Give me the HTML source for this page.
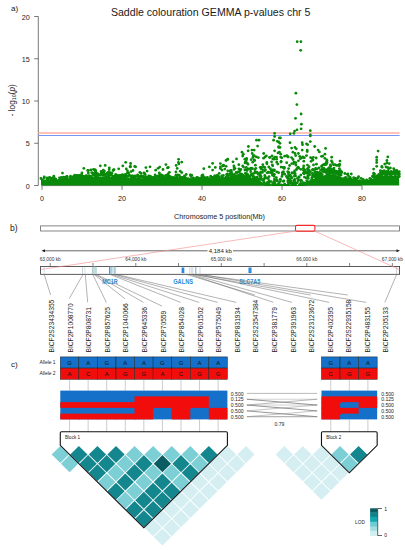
<!DOCTYPE html>
<html><head><meta charset="utf-8"><style>
html,body{margin:0;padding:0;background:#fff;width:405px;height:550px;overflow:hidden}
svg{display:block;font-family:"Liberation Sans", sans-serif}
</style></head><body>
<svg width="405" height="550" viewBox="0 0 405 550">
<text x="10.9" y="10.5" font-size="8.1" fill="#1a1a1a">a)</text>
<text x="110.9" y="15.9" font-size="10.6" fill="#1a1a1a" textLength="199.6" lengthAdjust="spacingAndGlyphs">Saddle colouration GEMMA p-values chr 5</text>
<g stroke="#555" stroke-width="0.8" fill="none">
<line x1="38.3" y1="16.50" x2="38.3" y2="185.50"/>
<line x1="34.2" y1="185.50" x2="38.3" y2="185.50"/>
<line x1="34.2" y1="143.25" x2="38.3" y2="143.25"/>
<line x1="34.2" y1="101.00" x2="38.3" y2="101.00"/>
<line x1="34.2" y1="58.75" x2="38.3" y2="58.75"/>
<line x1="34.2" y1="16.50" x2="38.3" y2="16.50"/>
<line x1="42.0" y1="185.6" x2="362.0" y2="185.6"/>
<line x1="42.0" y1="185.6" x2="42.0" y2="189.8"/>
<line x1="122.0" y1="185.6" x2="122.0" y2="189.8"/>
<line x1="202.0" y1="185.6" x2="202.0" y2="189.8"/>
<line x1="282.0" y1="185.6" x2="282.0" y2="189.8"/>
<line x1="362.0" y1="185.6" x2="362.0" y2="189.8"/>
</g>
<text x="29.8" y="188.50" font-size="7.2" fill="#222" text-anchor="end">0</text>
<text x="29.8" y="146.25" font-size="7.2" fill="#222" text-anchor="end">5</text>
<text x="29.8" y="104.00" font-size="7.2" fill="#222" text-anchor="end">10</text>
<text x="29.8" y="61.75" font-size="7.2" fill="#222" text-anchor="end">15</text>
<text x="29.8" y="19.50" font-size="7.2" fill="#222" text-anchor="end">20</text>
<text x="42.0" y="201.3" font-size="7.2" fill="#222" text-anchor="middle">0</text>
<text x="122.0" y="201.3" font-size="7.2" fill="#222" text-anchor="middle">20</text>
<text x="202.0" y="201.3" font-size="7.2" fill="#222" text-anchor="middle">40</text>
<text x="282.0" y="201.3" font-size="7.2" fill="#222" text-anchor="middle">60</text>
<text x="362.0" y="201.3" font-size="7.2" fill="#222" text-anchor="middle">80</text>
<text x="219.5" y="218.8" font-size="7.2" fill="#222" text-anchor="middle" textLength="91" lengthAdjust="spacingAndGlyphs">Chromosome 5 position(Mb)</text>
<text transform="translate(14.7,116.2) rotate(-90)" font-size="8.2" fill="#222">- log<tspan font-size="5.4" dy="1.5">10</tspan><tspan dy="-1.5">(</tspan><tspan font-style="italic">p</tspan>)</text>
<line x1="38.3" y1="133.0" x2="399.6" y2="133.0" stroke="#ffaea2" stroke-width="1.7"/>
<line x1="38.3" y1="135.5" x2="399.6" y2="135.5" stroke="#7896fa" stroke-width="1.1"/>
<clipPath id="pc"><rect x="0" y="0" width="405" height="185.6"/></clipPath>
<g clip-path="url(#pc)">
<path d="M41,186.3 L41.0,178.0 L41.5,178.0 L42.0,178.5 L42.5,178.5 L43.0,179.0 L43.5,179.0 L44.0,179.6 L44.5,179.6 L45.0,180.4 L45.5,180.4 L46.0,180.4 L46.5,180.4 L47.0,180.4 L47.5,180.4 L48.0,180.3 L48.5,180.3 L49.0,180.2 L49.5,180.2 L50.0,180.1 L50.5,180.1 L51.0,180.0 L51.5,180.0 L52.0,179.8 L52.5,179.8 L53.0,179.7 L53.5,179.7 L54.0,179.6 L54.5,179.6 L55.0,179.5 L55.5,179.5 L56.0,179.4 L56.5,179.4 L57.0,179.4 L57.5,179.4 L58.0,179.2 L58.5,179.2 L59.0,179.1 L59.5,179.1 L60.0,179.1 L60.5,179.1 L61.0,179.0 L61.5,179.0 L62.0,178.9 L62.5,178.9 L63.0,178.8 L63.5,178.8 L64.0,178.7 L64.5,178.7 L65.0,178.6 L65.5,178.6 L66.0,178.5 L66.5,178.5 L67.0,178.5 L67.5,178.5 L68.0,178.4 L68.5,178.4 L69.0,178.3 L69.5,178.3 L70.0,178.2 L70.5,178.2 L71.0,178.1 L71.5,178.1 L72.0,178.0 L72.5,178.0 L73.0,177.9 L73.5,177.9 L74.0,177.9 L74.5,177.9 L75.0,177.8 L75.5,177.8 L76.0,177.7 L76.5,177.7 L77.0,177.7 L77.5,177.7 L78.0,177.7 L78.5,177.7 L79.0,177.7 L79.5,177.7 L80.0,177.7 L80.5,177.7 L81.0,177.7 L81.5,177.7 L82.0,177.7 L82.5,177.7 L83.0,177.7 L83.5,177.7 L84.0,177.7 L84.5,177.7 L85.0,177.7 L85.5,177.7 L86.0,177.7 L86.5,177.7 L87.0,177.7 L87.5,177.7 L88.0,177.6 L88.5,177.6 L89.0,177.4 L89.5,177.4 L90.0,177.3 L90.5,177.3 L91.0,177.2 L91.5,177.2 L92.0,177.1 L92.5,177.1 L93.0,176.9 L93.5,176.9 L94.0,176.8 L94.5,176.8 L95.0,176.7 L95.5,176.7 L96.0,176.6 L96.5,176.6 L97.0,176.6 L97.5,176.6 L98.0,176.5 L98.5,176.5 L99.0,176.5 L99.5,176.5 L100.0,176.5 L100.5,176.5 L101.0,176.5 L101.5,176.5 L102.0,176.4 L102.5,176.4 L103.0,176.4 L103.5,176.4 L104.0,176.4 L104.5,176.4 L105.0,176.3 L105.5,176.3 L106.0,176.3 L106.5,176.3 L107.0,176.3 L107.5,176.3 L108.0,176.4 L108.5,176.4 L109.0,176.5 L109.5,176.5 L110.0,176.7 L110.5,176.7 L111.0,176.8 L111.5,176.8 L112.0,176.9 L112.5,176.9 L113.0,177.0 L113.5,177.0 L114.0,177.2 L114.5,177.2 L115.0,177.3 L115.5,177.3 L116.0,177.4 L116.5,177.4 L117.0,177.4 L117.5,177.4 L118.0,177.4 L118.5,177.4 L119.0,177.4 L119.5,177.4 L120.0,177.4 L120.5,177.4 L121.0,177.4 L121.5,177.4 L122.0,177.4 L122.5,177.4 L123.0,177.4 L123.5,177.4 L124.0,177.4 L124.5,177.4 L125.0,177.4 L125.5,177.4 L126.0,177.4 L126.5,177.4 L127.0,177.4 L127.5,177.4 L128.0,177.5 L128.5,177.5 L129.0,177.5 L129.5,177.5 L130.0,177.6 L130.5,177.6 L131.0,177.6 L131.5,177.6 L132.0,177.7 L132.5,177.7 L133.0,177.8 L133.5,177.8 L134.0,177.8 L134.5,177.8 L135.0,177.9 L135.5,177.9 L136.0,177.9 L136.5,177.9 L137.0,177.9 L137.5,177.9 L138.0,178.0 L138.5,178.0 L139.0,178.1 L139.5,178.1 L140.0,178.1 L140.5,178.1 L141.0,178.2 L141.5,178.2 L142.0,178.3 L142.5,178.3 L143.0,178.3 L143.5,178.3 L144.0,178.4 L144.5,178.4 L145.0,178.4 L145.5,178.4 L146.0,178.5 L146.5,178.5 L147.0,178.5 L147.5,178.5 L148.0,178.5 L148.5,178.5 L149.0,178.4 L149.5,178.4 L150.0,178.4 L150.5,178.4 L151.0,178.4 L151.5,178.4 L152.0,178.3 L152.5,178.3 L153.0,178.3 L153.5,178.3 L154.0,178.3 L154.5,178.3 L155.0,178.3 L155.5,178.3 L156.0,178.2 L156.5,178.2 L157.0,178.2 L157.5,178.2 L158.0,178.2 L158.5,178.2 L159.0,178.2 L159.5,178.2 L160.0,178.2 L160.5,178.2 L161.0,178.2 L161.5,178.2 L162.0,178.2 L162.5,178.2 L163.0,178.2 L163.5,178.2 L164.0,178.2 L164.5,178.2 L165.0,178.2 L165.5,178.2 L166.0,178.2 L166.5,178.2 L167.0,178.2 L167.5,178.2 L168.0,178.3 L168.5,178.3 L169.0,178.3 L169.5,178.3 L170.0,178.3 L170.5,178.3 L171.0,178.3 L171.5,178.3 L172.0,178.4 L172.5,178.4 L173.0,178.4 L173.5,178.4 L174.0,178.4 L174.5,178.4 L175.0,178.5 L175.5,178.5 L176.0,178.5 L176.5,178.5 L177.0,178.5 L177.5,178.5 L178.0,178.5 L178.5,178.5 L179.0,178.6 L179.5,178.6 L180.0,178.6 L180.5,178.6 L181.0,178.6 L181.5,178.6 L182.0,178.7 L182.5,178.7 L183.0,178.7 L183.5,178.7 L184.0,178.7 L184.5,178.7 L185.0,178.7 L185.5,178.7 L186.0,178.8 L186.5,178.8 L187.0,178.8 L187.5,178.8 L188.0,178.8 L188.5,178.8 L189.0,178.8 L189.5,178.8 L190.0,178.8 L190.5,178.8 L191.0,178.8 L191.5,178.8 L192.0,178.8 L192.5,178.8 L193.0,178.8 L193.5,178.8 L194.0,178.8 L194.5,178.8 L195.0,178.8 L195.5,178.8 L196.0,178.8 L196.5,178.8 L197.0,178.8 L197.5,178.8 L198.0,178.8 L198.5,178.8 L199.0,178.8 L199.5,178.8 L200.0,178.9 L200.5,178.9 L201.0,178.9 L201.5,178.9 L202.0,178.9 L202.5,178.9 L203.0,179.0 L203.5,179.0 L204.0,179.0 L204.5,179.0 L205.0,179.0 L205.5,179.0 L206.0,179.1 L206.5,179.1 L207.0,179.1 L207.5,179.1 L208.0,179.0 L208.5,179.0 L209.0,179.0 L209.5,179.0 L210.0,179.0 L210.5,179.0 L211.0,178.9 L211.5,178.9 L212.0,178.9 L212.5,178.9 L213.0,178.9 L213.5,178.9 L214.0,178.8 L214.5,178.8 L215.0,178.8 L215.5,178.8 L216.0,178.8 L216.5,178.8 L217.0,178.8 L217.5,178.8 L218.0,178.7 L218.5,178.7 L219.0,178.7 L219.5,178.7 L220.0,178.7 L220.5,178.7 L221.0,178.7 L221.5,178.7 L222.0,178.6 L222.5,178.6 L223.0,178.6 L223.5,178.6 L224.0,178.6 L224.5,178.6 L225.0,178.5 L225.5,178.5 L226.0,178.5 L226.5,178.5 L227.0,178.5 L227.5,178.5 L228.0,178.4 L228.5,178.4 L229.0,178.3 L229.5,178.3 L230.0,178.1 L230.5,178.1 L231.0,178.0 L231.5,178.0 L232.0,177.9 L232.5,177.9 L233.0,177.8 L233.5,177.8 L234.0,177.6 L234.5,177.6 L235.0,177.5 L235.5,177.5 L236.0,177.4 L236.5,177.4 L237.0,177.4 L237.5,177.4 L238.0,177.4 L238.5,177.4 L239.0,177.4 L239.5,177.4 L240.0,177.4 L240.5,177.4 L241.0,177.4 L241.5,177.4 L242.0,177.4 L242.5,177.4 L243.0,177.4 L243.5,177.4 L244.0,177.4 L244.5,177.4 L245.0,177.4 L245.5,177.4 L246.0,177.4 L246.5,177.4 L247.0,177.4 L247.5,177.4 L248.0,177.6 L248.5,177.6 L249.0,177.8 L249.5,177.8 L250.0,177.9 L250.5,177.9 L251.0,178.1 L251.5,178.1 L252.0,178.3 L252.5,178.3 L253.0,178.5 L253.5,178.5 L254.0,178.7 L254.5,178.7 L255.0,178.9 L255.5,178.9 L256.0,179.1 L256.5,179.1 L257.0,179.1 L257.5,179.1 L258.0,179.6 L258.5,179.6 L259.0,180.2 L259.5,180.2 L260.0,180.9 L260.5,180.9 L261.0,181.6 L261.5,181.6 L262.0,182.2 L262.5,182.2 L263.0,182.9 L263.5,182.9 L264.0,183.6 L264.5,183.6 L265.0,184.2 L265.5,184.2 L266.0,184.9 L266.5,184.9 L267.0,184.9 L267.5,184.9 L268.0,184.9 L268.5,184.9 L269.0,184.9 L269.5,184.9 L270.0,184.9 L270.5,184.9 L271.0,184.9 L271.5,184.9 L272.0,184.9 L272.5,184.9 L273.0,184.9 L273.5,184.9 L274.0,184.9 L274.5,184.9 L275.0,184.9 L275.5,184.9 L276.0,184.9 L276.5,184.9 L277.0,184.9 L277.5,184.9 L278.0,185.0 L278.5,185.0 L279.0,185.0 L279.5,185.0 L280.0,185.0 L280.5,185.0 L281.0,185.0 L281.5,185.0 L282.0,185.0 L282.5,185.0 L283.0,185.0 L283.5,185.0 L284.0,185.0 L284.5,185.0 L285.0,185.0 L285.5,185.0 L286.0,185.0 L286.5,185.0 L287.0,185.0 L287.5,185.0 L288.0,185.0 L288.5,185.0 L289.0,185.0 L289.5,185.0 L290.0,185.0 L290.5,185.0 L291.0,185.0 L291.5,185.0 L292.0,185.0 L292.5,185.0 L293.0,185.0 L293.5,185.0 L294.0,185.0 L294.5,185.0 L295.0,185.0 L295.5,185.0 L296.0,185.0 L296.5,185.0 L297.0,185.0 L297.5,185.0 L298.0,185.0 L298.5,185.0 L299.0,185.0 L299.5,185.0 L300.0,184.9 L300.5,184.9 L301.0,184.7 L301.5,184.7 L302.0,184.6 L302.5,184.6 L303.0,184.4 L303.5,184.4 L304.0,184.2 L304.5,184.2 L305.0,184.1 L305.5,184.1 L306.0,183.9 L306.5,183.9 L307.0,183.9 L307.5,183.9 L308.0,183.0 L308.5,183.0 L309.0,182.1 L309.5,182.1 L310.0,181.2 L310.5,181.2 L311.0,180.3 L311.5,180.3 L312.0,179.5 L312.5,179.5 L313.0,178.9 L313.5,178.9 L314.0,178.4 L314.5,178.4 L315.0,177.9 L315.5,177.9 L316.0,177.4 L316.5,177.4 L317.0,177.4 L317.5,177.4 L318.0,177.1 L318.5,177.1 L319.0,176.8 L319.5,176.8 L320.0,176.5 L320.5,176.5 L321.0,176.2 L321.5,176.2 L322.0,175.9 L322.5,175.9 L323.0,175.6 L323.5,175.6 L324.0,175.3 L324.5,175.3 L325.0,175.0 L325.5,175.0 L326.0,174.7 L326.5,174.7 L327.0,174.7 L327.5,174.7 L328.0,174.7 L328.5,174.7 L329.0,174.8 L329.5,174.8 L330.0,174.8 L330.5,174.8 L331.0,174.9 L331.5,174.9 L332.0,175.0 L332.5,175.0 L333.0,175.0 L333.5,175.0 L334.0,175.1 L334.5,175.1 L335.0,175.1 L335.5,175.1 L336.0,175.2 L336.5,175.2 L337.0,175.2 L337.5,175.2 L338.0,175.6 L338.5,175.6 L339.0,176.1 L339.5,176.1 L340.0,176.5 L340.5,176.5 L341.0,176.9 L341.5,176.9 L342.0,177.3 L342.5,177.3 L343.0,177.8 L343.5,177.8 L344.0,178.2 L344.5,178.2 L345.0,178.6 L345.5,178.6 L346.0,179.1 L346.5,179.1 L347.0,179.1 L347.5,179.1 L348.0,179.1 L348.5,179.1 L349.0,179.2 L349.5,179.2 L350.0,179.4 L350.5,179.4 L351.0,179.6 L351.5,179.6 L352.0,179.7 L352.5,179.7 L353.0,179.9 L353.5,179.9 L354.0,180.1 L354.5,180.1 L355.0,180.2 L355.5,180.2 L356.0,180.4 L356.5,180.4 L357.0,180.4 L357.5,180.4 L358.0,180.5 L358.5,180.5 L359.0,180.5 L359.5,180.5 L360.0,180.6 L360.5,180.6 L361.0,180.6 L361.5,180.6 L362.0,180.7 L362.5,180.7 L363.0,180.7 L363.5,180.7 L364.0,180.8 L364.5,180.8 L365.0,180.8 L365.5,180.8 L366.0,180.9 L366.5,180.9 L367.0,180.9 L367.5,180.9 L368.0,180.5 L368.5,180.5 L369.0,180.0 L369.5,180.0 L370.0,179.6 L370.5,179.6 L371.0,179.2 L371.5,179.2 L372.0,178.9 L372.5,178.9 L373.0,178.7 L373.5,178.7 L374.0,178.4 L374.5,178.4 L375.0,178.2 L375.5,178.2 L376.0,177.7 L376.5,177.7 L377.0,177.5 L377.5,177.5 L378.0,177.2 L378.5,177.2 L379.0,177.0 L379.5,177.0 L380.0,176.7 L380.5,176.7 L381.0,176.5 L381.5,176.5 L382.0,176.2 L382.5,176.2 L383.0,176.0 L383.5,176.0 L384.0,175.8 L384.5,175.8 L385.0,175.8 L385.5,175.8 L386.0,175.8 L386.5,175.8 L387.0,175.8 L387.5,175.8 L388.0,175.8 L388.5,175.8 L389.0,175.8 L389.5,175.8 L390.0,175.8 L390.5,175.8 L391.0,175.8 L391.5,175.8 L392.0,175.8 L392.5,175.8 L393.0,175.8 L393.5,175.8 L394.0,175.8 L394.5,175.8 L395.0,175.8 L395.5,175.8 L396.0,175.8 L396.5,175.8 L397.0,175.8 L397.5,175.8 L398.0,175.8 L398.5,175.8 L399.0,175.8 L399.3,186.3 Z" fill="#0a8a0a"/>
<g fill="#0a8a0a">
<circle cx="47.9" cy="179.4" r="1.4"/>
<circle cx="49.7" cy="177.5" r="1.4"/>
<circle cx="49.1" cy="177.9" r="1.4"/>
<circle cx="51.4" cy="179.8" r="1.4"/>
<circle cx="50.9" cy="181.0" r="1.4"/>
<circle cx="46.2" cy="180.8" r="1.4"/>
<circle cx="47.0" cy="180.1" r="1.4"/>
<circle cx="44.1" cy="178.0" r="1.4"/>
<circle cx="49.4" cy="181.0" r="1.4"/>
<circle cx="49.8" cy="181.0" r="1.4"/>
<circle cx="47.8" cy="181.0" r="1.4"/>
<circle cx="41.0" cy="178.5" r="1.4"/>
<circle cx="51.8" cy="178.5" r="1.4"/>
<circle cx="44.2" cy="177.0" r="1.4"/>
<circle cx="46.9" cy="178.0" r="1.4"/>
<circle cx="51.4" cy="180.9" r="1.4"/>
<circle cx="60.9" cy="179.7" r="1.4"/>
<circle cx="55.6" cy="180.0" r="1.4"/>
<circle cx="53.5" cy="180.1" r="1.4"/>
<circle cx="55.0" cy="179.0" r="1.4"/>
<circle cx="52.0" cy="178.7" r="1.4"/>
<circle cx="55.4" cy="179.7" r="1.4"/>
<circle cx="60.2" cy="179.3" r="1.4"/>
<circle cx="55.2" cy="179.3" r="1.4"/>
<circle cx="59.0" cy="180.1" r="1.4"/>
<circle cx="61.8" cy="180.2" r="1.4"/>
<circle cx="59.5" cy="177.8" r="1.4"/>
<circle cx="52.2" cy="178.2" r="1.4"/>
<circle cx="55.7" cy="179.1" r="1.4"/>
<circle cx="52.1" cy="180.1" r="1.4"/>
<circle cx="53.8" cy="176.2" r="1.4"/>
<circle cx="54.0" cy="178.4" r="1.4"/>
<circle cx="61.3" cy="177.3" r="1.4"/>
<circle cx="55.5" cy="179.2" r="1.4"/>
<circle cx="53.1" cy="179.3" r="1.4"/>
<circle cx="70.6" cy="178.7" r="1.4"/>
<circle cx="71.5" cy="178.6" r="1.4"/>
<circle cx="65.4" cy="177.5" r="1.4"/>
<circle cx="71.2" cy="178.2" r="1.4"/>
<circle cx="71.2" cy="177.7" r="1.4"/>
<circle cx="65.1" cy="178.2" r="1.4"/>
<circle cx="63.8" cy="178.6" r="1.4"/>
<circle cx="63.5" cy="177.2" r="1.4"/>
<circle cx="72.0" cy="178.5" r="1.4"/>
<circle cx="62.5" cy="173.1" r="1.4"/>
<circle cx="67.3" cy="178.0" r="1.4"/>
<circle cx="64.4" cy="177.5" r="1.4"/>
<circle cx="70.3" cy="177.9" r="1.4"/>
<circle cx="66.2" cy="178.6" r="1.4"/>
<circle cx="71.2" cy="178.7" r="1.4"/>
<circle cx="66.9" cy="176.3" r="1.4"/>
<circle cx="63.3" cy="177.7" r="1.4"/>
<circle cx="71.5" cy="177.9" r="1.4"/>
<circle cx="69.9" cy="179.2" r="1.4"/>
<circle cx="66.3" cy="177.9" r="1.4"/>
<circle cx="64.9" cy="178.5" r="1.4"/>
<circle cx="70.5" cy="176.2" r="1.4"/>
<circle cx="66.9" cy="176.3" r="1.4"/>
<circle cx="74.9" cy="176.5" r="1.4"/>
<circle cx="73.5" cy="176.6" r="1.4"/>
<circle cx="81.9" cy="173.0" r="1.4"/>
<circle cx="78.3" cy="176.3" r="1.4"/>
<circle cx="75.4" cy="177.1" r="1.4"/>
<circle cx="74.7" cy="175.2" r="1.4"/>
<circle cx="80.7" cy="176.6" r="1.4"/>
<circle cx="79.9" cy="175.3" r="1.4"/>
<circle cx="78.9" cy="175.8" r="1.4"/>
<circle cx="79.6" cy="176.6" r="1.4"/>
<circle cx="79.0" cy="176.8" r="1.4"/>
<circle cx="76.9" cy="175.3" r="1.4"/>
<circle cx="78.9" cy="176.7" r="1.4"/>
<circle cx="81.5" cy="175.8" r="1.4"/>
<circle cx="77.8" cy="177.2" r="1.4"/>
<circle cx="77.5" cy="176.8" r="1.4"/>
<circle cx="78.7" cy="177.2" r="1.4"/>
<circle cx="80.2" cy="176.6" r="1.4"/>
<circle cx="80.0" cy="177.6" r="1.4"/>
<circle cx="78.4" cy="176.3" r="1.4"/>
<circle cx="80.3" cy="177.6" r="1.4"/>
<circle cx="80.4" cy="175.9" r="1.4"/>
<circle cx="78.9" cy="175.6" r="1.4"/>
<circle cx="81.6" cy="174.7" r="1.4"/>
<circle cx="73.7" cy="176.7" r="1.4"/>
<circle cx="76.8" cy="175.7" r="1.4"/>
<circle cx="79.3" cy="176.0" r="1.4"/>
<circle cx="87.8" cy="175.8" r="1.4"/>
<circle cx="86.2" cy="175.9" r="1.4"/>
<circle cx="89.7" cy="175.9" r="1.4"/>
<circle cx="89.2" cy="177.2" r="1.4"/>
<circle cx="83.6" cy="176.4" r="1.4"/>
<circle cx="88.5" cy="176.9" r="1.4"/>
<circle cx="88.9" cy="175.9" r="1.4"/>
<circle cx="82.4" cy="176.4" r="1.4"/>
<circle cx="84.3" cy="177.1" r="1.4"/>
<circle cx="83.3" cy="176.7" r="1.4"/>
<circle cx="83.8" cy="176.9" r="1.4"/>
<circle cx="82.4" cy="176.4" r="1.4"/>
<circle cx="85.8" cy="176.0" r="1.4"/>
<circle cx="87.9" cy="176.8" r="1.4"/>
<circle cx="91.0" cy="177.2" r="1.4"/>
<circle cx="86.1" cy="176.8" r="1.4"/>
<circle cx="86.1" cy="178.3" r="1.4"/>
<circle cx="90.3" cy="177.5" r="1.4"/>
<circle cx="82.4" cy="176.7" r="1.4"/>
<circle cx="82.9" cy="176.9" r="1.4"/>
<circle cx="85.4" cy="176.8" r="1.4"/>
<circle cx="91.6" cy="176.1" r="1.4"/>
<circle cx="86.2" cy="176.1" r="1.4"/>
<circle cx="88.4" cy="170.5" r="1.4"/>
<circle cx="88.0" cy="176.8" r="1.4"/>
<circle cx="91.7" cy="172.7" r="1.4"/>
<circle cx="90.9" cy="169.9" r="1.4"/>
<circle cx="87.7" cy="170.4" r="1.4"/>
<circle cx="88.3" cy="172.9" r="1.4"/>
<circle cx="96.3" cy="174.9" r="1.4"/>
<circle cx="94.9" cy="170.5" r="1.4"/>
<circle cx="95.8" cy="171.0" r="1.4"/>
<circle cx="101.1" cy="174.0" r="1.4"/>
<circle cx="94.6" cy="170.0" r="1.4"/>
<circle cx="97.0" cy="174.5" r="1.4"/>
<circle cx="95.2" cy="169.8" r="1.4"/>
<circle cx="96.9" cy="174.8" r="1.4"/>
<circle cx="96.8" cy="175.0" r="1.4"/>
<circle cx="98.2" cy="174.4" r="1.4"/>
<circle cx="94.9" cy="173.2" r="1.4"/>
<circle cx="100.3" cy="175.2" r="1.4"/>
<circle cx="97.3" cy="174.8" r="1.4"/>
<circle cx="101.4" cy="173.2" r="1.4"/>
<circle cx="94.5" cy="174.8" r="1.4"/>
<circle cx="93.5" cy="169.4" r="1.4"/>
<circle cx="94.9" cy="175.1" r="1.4"/>
<circle cx="96.7" cy="174.9" r="1.4"/>
<circle cx="98.0" cy="174.5" r="1.4"/>
<circle cx="93.2" cy="174.5" r="1.4"/>
<circle cx="95.0" cy="175.4" r="1.4"/>
<circle cx="95.4" cy="176.4" r="1.4"/>
<circle cx="97.3" cy="175.7" r="1.4"/>
<circle cx="95.6" cy="174.5" r="1.4"/>
<circle cx="97.9" cy="177.4" r="1.4"/>
<circle cx="94.5" cy="175.7" r="1.4"/>
<circle cx="101.2" cy="174.0" r="1.4"/>
<circle cx="97.5" cy="173.6" r="1.4"/>
<circle cx="96.3" cy="173.2" r="1.4"/>
<circle cx="98.3" cy="174.5" r="1.4"/>
<circle cx="95.9" cy="174.1" r="1.4"/>
<circle cx="94.0" cy="174.0" r="1.4"/>
<circle cx="92.7" cy="173.1" r="1.4"/>
<circle cx="96.3" cy="173.7" r="1.4"/>
<circle cx="101.1" cy="171.5" r="1.4"/>
<circle cx="107.5" cy="173.8" r="1.4"/>
<circle cx="105.3" cy="174.5" r="1.4"/>
<circle cx="107.9" cy="172.5" r="1.4"/>
<circle cx="102.7" cy="174.4" r="1.4"/>
<circle cx="110.2" cy="172.7" r="1.4"/>
<circle cx="108.6" cy="174.7" r="1.4"/>
<circle cx="109.2" cy="169.7" r="1.4"/>
<circle cx="112.0" cy="173.1" r="1.4"/>
<circle cx="102.5" cy="172.3" r="1.4"/>
<circle cx="104.2" cy="173.4" r="1.4"/>
<circle cx="111.5" cy="173.1" r="1.4"/>
<circle cx="103.3" cy="174.3" r="1.4"/>
<circle cx="111.2" cy="174.5" r="1.4"/>
<circle cx="108.1" cy="174.0" r="1.4"/>
<circle cx="103.6" cy="173.4" r="1.4"/>
<circle cx="102.4" cy="174.6" r="1.4"/>
<circle cx="105.8" cy="177.0" r="1.4"/>
<circle cx="102.6" cy="174.8" r="1.4"/>
<circle cx="109.4" cy="173.5" r="1.4"/>
<circle cx="103.3" cy="175.4" r="1.4"/>
<circle cx="105.1" cy="174.7" r="1.4"/>
<circle cx="106.9" cy="173.3" r="1.4"/>
<circle cx="105.7" cy="177.1" r="1.4"/>
<circle cx="109.0" cy="176.7" r="1.4"/>
<circle cx="108.3" cy="175.1" r="1.4"/>
<circle cx="111.1" cy="174.9" r="1.4"/>
<circle cx="108.2" cy="176.2" r="1.4"/>
<circle cx="107.5" cy="176.2" r="1.4"/>
<circle cx="109.5" cy="175.1" r="1.4"/>
<circle cx="103.3" cy="170.2" r="1.4"/>
<circle cx="109.4" cy="172.8" r="1.4"/>
<circle cx="108.6" cy="172.5" r="1.4"/>
<circle cx="102.9" cy="172.0" r="1.4"/>
<circle cx="104.4" cy="171.1" r="1.4"/>
<circle cx="105.2" cy="165.4" r="1.4"/>
<circle cx="109.3" cy="167.8" r="1.4"/>
<circle cx="121.5" cy="175.2" r="1.4"/>
<circle cx="114.2" cy="176.5" r="1.4"/>
<circle cx="121.7" cy="175.3" r="1.4"/>
<circle cx="120.2" cy="176.5" r="1.4"/>
<circle cx="118.2" cy="176.1" r="1.4"/>
<circle cx="114.4" cy="176.2" r="1.4"/>
<circle cx="118.1" cy="176.1" r="1.4"/>
<circle cx="115.9" cy="176.5" r="1.4"/>
<circle cx="120.3" cy="175.3" r="1.4"/>
<circle cx="120.0" cy="176.0" r="1.4"/>
<circle cx="120.5" cy="175.8" r="1.4"/>
<circle cx="117.9" cy="175.6" r="1.4"/>
<circle cx="119.4" cy="176.0" r="1.4"/>
<circle cx="113.0" cy="176.7" r="1.4"/>
<circle cx="114.0" cy="176.6" r="1.4"/>
<circle cx="120.9" cy="175.8" r="1.4"/>
<circle cx="119.6" cy="178.4" r="1.4"/>
<circle cx="116.7" cy="175.4" r="1.4"/>
<circle cx="118.2" cy="176.9" r="1.4"/>
<circle cx="116.7" cy="178.1" r="1.4"/>
<circle cx="113.5" cy="177.9" r="1.4"/>
<circle cx="115.7" cy="177.1" r="1.4"/>
<circle cx="120.8" cy="177.9" r="1.4"/>
<circle cx="114.5" cy="177.5" r="1.4"/>
<circle cx="113.6" cy="169.8" r="1.4"/>
<circle cx="116.8" cy="176.0" r="1.4"/>
<circle cx="115.7" cy="174.3" r="1.4"/>
<circle cx="118.7" cy="176.1" r="1.4"/>
<circle cx="113.2" cy="170.5" r="1.4"/>
<circle cx="118.7" cy="168.8" r="1.4"/>
<circle cx="114.0" cy="169.7" r="1.4"/>
<circle cx="112.8" cy="176.3" r="1.4"/>
<circle cx="125.6" cy="176.2" r="1.4"/>
<circle cx="126.7" cy="176.3" r="1.4"/>
<circle cx="129.3" cy="175.1" r="1.4"/>
<circle cx="123.6" cy="176.3" r="1.4"/>
<circle cx="128.7" cy="173.0" r="1.4"/>
<circle cx="128.5" cy="176.0" r="1.4"/>
<circle cx="131.8" cy="176.7" r="1.4"/>
<circle cx="122.6" cy="174.7" r="1.4"/>
<circle cx="126.1" cy="176.6" r="1.4"/>
<circle cx="127.5" cy="170.8" r="1.4"/>
<circle cx="127.2" cy="176.1" r="1.4"/>
<circle cx="122.9" cy="176.6" r="1.4"/>
<circle cx="131.0" cy="175.8" r="1.4"/>
<circle cx="131.4" cy="176.6" r="1.4"/>
<circle cx="124.4" cy="176.6" r="1.4"/>
<circle cx="126.0" cy="176.6" r="1.4"/>
<circle cx="124.6" cy="177.0" r="1.4"/>
<circle cx="125.1" cy="178.2" r="1.4"/>
<circle cx="122.4" cy="175.1" r="1.4"/>
<circle cx="123.8" cy="176.7" r="1.4"/>
<circle cx="126.0" cy="176.6" r="1.4"/>
<circle cx="122.8" cy="177.3" r="1.4"/>
<circle cx="123.1" cy="176.6" r="1.4"/>
<circle cx="131.2" cy="176.4" r="1.4"/>
<circle cx="130.6" cy="163.5" r="1.4"/>
<circle cx="127.4" cy="172.8" r="1.4"/>
<circle cx="125.8" cy="174.3" r="1.4"/>
<circle cx="131.1" cy="171.6" r="1.4"/>
<circle cx="130.3" cy="166.6" r="1.4"/>
<circle cx="125.1" cy="174.7" r="1.4"/>
<circle cx="130.2" cy="166.9" r="1.4"/>
<circle cx="122.8" cy="165.9" r="1.4"/>
<circle cx="126.3" cy="168.9" r="1.4"/>
<circle cx="132.6" cy="176.1" r="1.4"/>
<circle cx="132.5" cy="177.4" r="1.4"/>
<circle cx="134.9" cy="177.1" r="1.4"/>
<circle cx="133.0" cy="177.0" r="1.4"/>
<circle cx="135.1" cy="175.9" r="1.4"/>
<circle cx="137.6" cy="174.8" r="1.4"/>
<circle cx="138.5" cy="175.8" r="1.4"/>
<circle cx="137.7" cy="176.9" r="1.4"/>
<circle cx="140.2" cy="176.3" r="1.4"/>
<circle cx="141.5" cy="176.0" r="1.4"/>
<circle cx="139.0" cy="177.3" r="1.4"/>
<circle cx="140.1" cy="177.1" r="1.4"/>
<circle cx="133.3" cy="177.6" r="1.4"/>
<circle cx="133.7" cy="177.3" r="1.4"/>
<circle cx="138.8" cy="177.3" r="1.4"/>
<circle cx="132.6" cy="175.8" r="1.4"/>
<circle cx="137.6" cy="178.9" r="1.4"/>
<circle cx="132.5" cy="178.6" r="1.4"/>
<circle cx="135.6" cy="176.4" r="1.4"/>
<circle cx="141.5" cy="177.1" r="1.4"/>
<circle cx="134.3" cy="177.7" r="1.4"/>
<circle cx="135.6" cy="166.8" r="1.4"/>
<circle cx="137.8" cy="175.7" r="1.4"/>
<circle cx="133.0" cy="170.5" r="1.4"/>
<circle cx="139.1" cy="177.1" r="1.4"/>
<circle cx="139.9" cy="172.3" r="1.4"/>
<circle cx="141.1" cy="173.4" r="1.4"/>
<circle cx="146.4" cy="176.8" r="1.4"/>
<circle cx="151.4" cy="177.7" r="1.4"/>
<circle cx="151.7" cy="177.5" r="1.4"/>
<circle cx="143.0" cy="176.5" r="1.4"/>
<circle cx="146.2" cy="178.6" r="1.4"/>
<circle cx="151.8" cy="178.7" r="1.4"/>
<circle cx="147.8" cy="177.8" r="1.4"/>
<circle cx="150.8" cy="178.1" r="1.4"/>
<circle cx="144.2" cy="178.3" r="1.4"/>
<circle cx="144.0" cy="177.6" r="1.4"/>
<circle cx="145.6" cy="176.9" r="1.4"/>
<circle cx="144.4" cy="178.1" r="1.4"/>
<circle cx="144.5" cy="173.4" r="1.4"/>
<circle cx="150.4" cy="176.2" r="1.4"/>
<circle cx="148.2" cy="178.0" r="1.4"/>
<circle cx="143.4" cy="176.4" r="1.4"/>
<circle cx="146.9" cy="179.4" r="1.4"/>
<circle cx="143.7" cy="179.3" r="1.4"/>
<circle cx="149.2" cy="177.2" r="1.4"/>
<circle cx="144.0" cy="172.9" r="1.4"/>
<circle cx="148.8" cy="175.8" r="1.4"/>
<circle cx="150.0" cy="166.8" r="1.4"/>
<circle cx="147.1" cy="171.1" r="1.4"/>
<circle cx="145.9" cy="167.6" r="1.4"/>
<circle cx="145.1" cy="174.5" r="1.4"/>
<circle cx="149.0" cy="178.4" r="1.4"/>
<circle cx="160.2" cy="174.9" r="1.4"/>
<circle cx="158.9" cy="176.8" r="1.4"/>
<circle cx="157.4" cy="176.1" r="1.4"/>
<circle cx="155.6" cy="177.0" r="1.4"/>
<circle cx="158.8" cy="177.2" r="1.4"/>
<circle cx="154.8" cy="178.1" r="1.4"/>
<circle cx="152.9" cy="177.6" r="1.4"/>
<circle cx="157.8" cy="176.3" r="1.4"/>
<circle cx="159.1" cy="177.7" r="1.4"/>
<circle cx="161.3" cy="177.8" r="1.4"/>
<circle cx="159.2" cy="178.1" r="1.4"/>
<circle cx="159.5" cy="176.8" r="1.4"/>
<circle cx="161.6" cy="175.2" r="1.4"/>
<circle cx="158.9" cy="175.8" r="1.4"/>
<circle cx="159.4" cy="177.0" r="1.4"/>
<circle cx="154.1" cy="177.3" r="1.4"/>
<circle cx="161.0" cy="178.6" r="1.4"/>
<circle cx="161.7" cy="177.7" r="1.4"/>
<circle cx="155.9" cy="179.2" r="1.4"/>
<circle cx="155.9" cy="178.7" r="1.4"/>
<circle cx="158.5" cy="177.3" r="1.4"/>
<circle cx="158.1" cy="168.3" r="1.4"/>
<circle cx="158.9" cy="175.8" r="1.4"/>
<circle cx="155.7" cy="170.2" r="1.4"/>
<circle cx="155.1" cy="174.9" r="1.4"/>
<circle cx="161.0" cy="175.0" r="1.4"/>
<circle cx="159.7" cy="167.1" r="1.4"/>
<circle cx="157.7" cy="177.1" r="1.4"/>
<circle cx="159.3" cy="173.0" r="1.4"/>
<circle cx="167.3" cy="175.1" r="1.4"/>
<circle cx="165.0" cy="177.8" r="1.4"/>
<circle cx="168.1" cy="173.8" r="1.4"/>
<circle cx="163.9" cy="178.2" r="1.4"/>
<circle cx="163.2" cy="177.1" r="1.4"/>
<circle cx="168.0" cy="177.9" r="1.4"/>
<circle cx="163.9" cy="177.0" r="1.4"/>
<circle cx="168.5" cy="176.7" r="1.4"/>
<circle cx="169.3" cy="178.1" r="1.4"/>
<circle cx="166.8" cy="175.9" r="1.4"/>
<circle cx="171.6" cy="177.7" r="1.4"/>
<circle cx="170.5" cy="176.9" r="1.4"/>
<circle cx="171.3" cy="177.9" r="1.4"/>
<circle cx="169.0" cy="175.8" r="1.4"/>
<circle cx="166.8" cy="178.1" r="1.4"/>
<circle cx="163.9" cy="178.0" r="1.4"/>
<circle cx="162.9" cy="178.8" r="1.4"/>
<circle cx="168.2" cy="178.9" r="1.4"/>
<circle cx="169.6" cy="177.2" r="1.4"/>
<circle cx="170.2" cy="177.0" r="1.4"/>
<circle cx="169.1" cy="177.7" r="1.4"/>
<circle cx="168.3" cy="167.5" r="1.4"/>
<circle cx="163.0" cy="169.5" r="1.4"/>
<circle cx="165.7" cy="175.3" r="1.4"/>
<circle cx="169.4" cy="172.3" r="1.4"/>
<circle cx="167.4" cy="167.8" r="1.4"/>
<circle cx="168.0" cy="175.3" r="1.4"/>
<circle cx="167.0" cy="177.6" r="1.4"/>
<circle cx="162.7" cy="175.7" r="1.4"/>
<circle cx="175.0" cy="178.5" r="1.4"/>
<circle cx="176.8" cy="178.1" r="1.4"/>
<circle cx="179.4" cy="175.4" r="1.4"/>
<circle cx="175.8" cy="178.3" r="1.4"/>
<circle cx="177.0" cy="177.1" r="1.4"/>
<circle cx="179.9" cy="177.6" r="1.4"/>
<circle cx="175.0" cy="178.2" r="1.4"/>
<circle cx="180.5" cy="177.7" r="1.4"/>
<circle cx="172.5" cy="178.0" r="1.4"/>
<circle cx="174.4" cy="177.3" r="1.4"/>
<circle cx="172.7" cy="178.3" r="1.4"/>
<circle cx="173.0" cy="177.9" r="1.4"/>
<circle cx="181.8" cy="177.7" r="1.4"/>
<circle cx="175.9" cy="175.2" r="1.4"/>
<circle cx="172.9" cy="178.1" r="1.4"/>
<circle cx="180.1" cy="178.7" r="1.4"/>
<circle cx="179.7" cy="178.6" r="1.4"/>
<circle cx="172.2" cy="178.9" r="1.4"/>
<circle cx="176.6" cy="178.5" r="1.4"/>
<circle cx="177.2" cy="168.4" r="1.4"/>
<circle cx="181.7" cy="172.6" r="1.4"/>
<circle cx="172.9" cy="178.1" r="1.4"/>
<circle cx="178.9" cy="163.9" r="1.4"/>
<circle cx="175.9" cy="172.0" r="1.4"/>
<circle cx="177.9" cy="174.8" r="1.4"/>
<circle cx="178.4" cy="162.4" r="1.4"/>
<circle cx="179.7" cy="177.3" r="1.4"/>
<circle cx="180.3" cy="171.2" r="1.4"/>
<circle cx="182.0" cy="177.4" r="1.4"/>
<circle cx="183.5" cy="177.2" r="1.4"/>
<circle cx="186.2" cy="174.5" r="1.4"/>
<circle cx="191.9" cy="178.9" r="1.4"/>
<circle cx="186.2" cy="178.8" r="1.4"/>
<circle cx="186.7" cy="178.8" r="1.4"/>
<circle cx="188.7" cy="179.0" r="1.4"/>
<circle cx="183.7" cy="178.4" r="1.4"/>
<circle cx="182.7" cy="178.6" r="1.4"/>
<circle cx="191.0" cy="176.4" r="1.4"/>
<circle cx="184.0" cy="179.2" r="1.4"/>
<circle cx="190.3" cy="175.0" r="1.4"/>
<circle cx="188.0" cy="179.0" r="1.4"/>
<circle cx="184.4" cy="175.9" r="1.4"/>
<circle cx="191.4" cy="179.2" r="1.4"/>
<circle cx="183.8" cy="178.5" r="1.4"/>
<circle cx="184.7" cy="177.4" r="1.4"/>
<circle cx="185.7" cy="178.0" r="1.4"/>
<circle cx="183.5" cy="178.6" r="1.4"/>
<circle cx="191.7" cy="175.2" r="1.4"/>
<circle cx="193.1" cy="177.9" r="1.4"/>
<circle cx="195.7" cy="178.6" r="1.4"/>
<circle cx="196.8" cy="178.1" r="1.4"/>
<circle cx="201.7" cy="178.8" r="1.4"/>
<circle cx="197.7" cy="178.8" r="1.4"/>
<circle cx="197.5" cy="177.5" r="1.4"/>
<circle cx="193.3" cy="178.3" r="1.4"/>
<circle cx="199.1" cy="179.2" r="1.4"/>
<circle cx="199.7" cy="178.5" r="1.4"/>
<circle cx="197.0" cy="178.0" r="1.4"/>
<circle cx="199.9" cy="179.1" r="1.4"/>
<circle cx="197.0" cy="179.1" r="1.4"/>
<circle cx="195.9" cy="178.6" r="1.4"/>
<circle cx="192.2" cy="178.7" r="1.4"/>
<circle cx="196.5" cy="177.8" r="1.4"/>
<circle cx="201.2" cy="178.6" r="1.4"/>
<circle cx="197.3" cy="178.2" r="1.4"/>
<circle cx="201.4" cy="177.6" r="1.4"/>
<circle cx="201.9" cy="175.7" r="1.4"/>
<circle cx="211.3" cy="179.6" r="1.4"/>
<circle cx="206.5" cy="178.0" r="1.4"/>
<circle cx="207.3" cy="179.1" r="1.4"/>
<circle cx="211.2" cy="179.2" r="1.4"/>
<circle cx="207.5" cy="177.4" r="1.4"/>
<circle cx="203.4" cy="179.1" r="1.4"/>
<circle cx="206.9" cy="178.6" r="1.4"/>
<circle cx="204.1" cy="178.9" r="1.4"/>
<circle cx="202.6" cy="179.6" r="1.4"/>
<circle cx="205.4" cy="179.5" r="1.4"/>
<circle cx="211.7" cy="179.3" r="1.4"/>
<circle cx="204.8" cy="177.7" r="1.4"/>
<circle cx="209.4" cy="179.3" r="1.4"/>
<circle cx="210.3" cy="178.4" r="1.4"/>
<circle cx="205.9" cy="178.4" r="1.4"/>
<circle cx="204.5" cy="179.3" r="1.4"/>
<circle cx="210.8" cy="178.8" r="1.4"/>
<circle cx="203.8" cy="168.7" r="1.4"/>
<circle cx="209.4" cy="166.9" r="1.4"/>
<circle cx="202.4" cy="175.3" r="1.4"/>
<circle cx="210.7" cy="176.2" r="1.4"/>
<circle cx="203.2" cy="176.4" r="1.4"/>
<circle cx="208.1" cy="179.1" r="1.4"/>
<circle cx="203.1" cy="177.1" r="1.4"/>
<circle cx="202.9" cy="175.0" r="1.4"/>
<circle cx="218.5" cy="176.3" r="1.4"/>
<circle cx="219.2" cy="179.1" r="1.4"/>
<circle cx="218.4" cy="176.8" r="1.4"/>
<circle cx="213.2" cy="177.4" r="1.4"/>
<circle cx="214.6" cy="178.7" r="1.4"/>
<circle cx="212.0" cy="177.4" r="1.4"/>
<circle cx="217.2" cy="176.2" r="1.4"/>
<circle cx="216.7" cy="179.0" r="1.4"/>
<circle cx="214.2" cy="178.8" r="1.4"/>
<circle cx="221.5" cy="178.9" r="1.4"/>
<circle cx="212.9" cy="178.6" r="1.4"/>
<circle cx="212.8" cy="178.5" r="1.4"/>
<circle cx="218.2" cy="177.8" r="1.4"/>
<circle cx="213.7" cy="179.0" r="1.4"/>
<circle cx="216.9" cy="177.7" r="1.4"/>
<circle cx="216.5" cy="178.1" r="1.4"/>
<circle cx="221.1" cy="179.4" r="1.4"/>
<circle cx="214.7" cy="178.7" r="1.4"/>
<circle cx="217.4" cy="175.1" r="1.4"/>
<circle cx="218.6" cy="177.2" r="1.4"/>
<circle cx="220.4" cy="168.6" r="1.4"/>
<circle cx="214.6" cy="178.1" r="1.4"/>
<circle cx="214.6" cy="175.9" r="1.4"/>
<circle cx="221.6" cy="177.1" r="1.4"/>
<circle cx="215.4" cy="175.8" r="1.4"/>
<circle cx="220.4" cy="167.0" r="1.4"/>
<circle cx="221.7" cy="175.9" r="1.4"/>
<circle cx="219.2" cy="173.4" r="1.4"/>
<circle cx="215.3" cy="167.4" r="1.4"/>
<circle cx="219.2" cy="178.0" r="1.4"/>
<circle cx="212.6" cy="170.1" r="1.4"/>
<circle cx="231.4" cy="176.7" r="1.4"/>
<circle cx="231.0" cy="177.8" r="1.4"/>
<circle cx="223.0" cy="178.0" r="1.4"/>
<circle cx="224.3" cy="178.7" r="1.4"/>
<circle cx="227.6" cy="178.3" r="1.4"/>
<circle cx="223.1" cy="177.8" r="1.4"/>
<circle cx="231.3" cy="174.9" r="1.4"/>
<circle cx="226.7" cy="178.6" r="1.4"/>
<circle cx="229.7" cy="178.5" r="1.4"/>
<circle cx="227.4" cy="178.6" r="1.4"/>
<circle cx="231.9" cy="177.7" r="1.4"/>
<circle cx="226.4" cy="178.3" r="1.4"/>
<circle cx="227.5" cy="174.0" r="1.4"/>
<circle cx="226.3" cy="178.4" r="1.4"/>
<circle cx="227.1" cy="175.4" r="1.4"/>
<circle cx="225.8" cy="177.4" r="1.4"/>
<circle cx="231.2" cy="178.7" r="1.4"/>
<circle cx="230.1" cy="178.2" r="1.4"/>
<circle cx="223.4" cy="179.4" r="1.4"/>
<circle cx="231.4" cy="172.1" r="1.4"/>
<circle cx="231.2" cy="172.9" r="1.4"/>
<circle cx="224.8" cy="169.1" r="1.4"/>
<circle cx="226.7" cy="174.3" r="1.4"/>
<circle cx="223.3" cy="175.3" r="1.4"/>
<circle cx="229.3" cy="178.5" r="1.4"/>
<circle cx="223.3" cy="165.2" r="1.4"/>
<circle cx="226.5" cy="177.1" r="1.4"/>
<circle cx="223.6" cy="165.7" r="1.4"/>
<circle cx="227.8" cy="170.8" r="1.4"/>
<circle cx="222.5" cy="166.1" r="1.4"/>
<circle cx="229.6" cy="174.1" r="1.4"/>
<circle cx="228.4" cy="177.3" r="1.4"/>
<circle cx="231.2" cy="170.5" r="1.4"/>
<circle cx="230.8" cy="171.8" r="1.4"/>
<circle cx="226.1" cy="166.3" r="1.4"/>
<circle cx="228.6" cy="175.7" r="1.4"/>
<circle cx="222.0" cy="170.1" r="1.4"/>
<circle cx="230.5" cy="171.8" r="1.4"/>
<circle cx="230.4" cy="170.6" r="1.4"/>
<circle cx="239.3" cy="175.8" r="1.4"/>
<circle cx="239.1" cy="175.5" r="1.4"/>
<circle cx="240.0" cy="176.5" r="1.4"/>
<circle cx="236.9" cy="176.7" r="1.4"/>
<circle cx="239.9" cy="174.8" r="1.4"/>
<circle cx="240.4" cy="176.6" r="1.4"/>
<circle cx="237.4" cy="175.9" r="1.4"/>
<circle cx="233.2" cy="176.4" r="1.4"/>
<circle cx="241.7" cy="174.2" r="1.4"/>
<circle cx="234.4" cy="174.4" r="1.4"/>
<circle cx="238.5" cy="176.1" r="1.4"/>
<circle cx="238.4" cy="176.4" r="1.4"/>
<circle cx="234.7" cy="176.7" r="1.4"/>
<circle cx="238.6" cy="175.6" r="1.4"/>
<circle cx="239.4" cy="175.8" r="1.4"/>
<circle cx="236.3" cy="176.2" r="1.4"/>
<circle cx="239.4" cy="177.1" r="1.4"/>
<circle cx="238.0" cy="175.8" r="1.4"/>
<circle cx="236.4" cy="176.1" r="1.4"/>
<circle cx="232.6" cy="177.5" r="1.4"/>
<circle cx="240.4" cy="177.9" r="1.4"/>
<circle cx="232.6" cy="178.4" r="1.4"/>
<circle cx="239.7" cy="178.0" r="1.4"/>
<circle cx="236.6" cy="176.9" r="1.4"/>
<circle cx="240.0" cy="170.7" r="1.4"/>
<circle cx="232.2" cy="173.9" r="1.4"/>
<circle cx="238.2" cy="172.0" r="1.4"/>
<circle cx="239.2" cy="172.0" r="1.4"/>
<circle cx="232.2" cy="176.4" r="1.4"/>
<circle cx="234.0" cy="169.4" r="1.4"/>
<circle cx="233.0" cy="161.8" r="1.4"/>
<circle cx="234.2" cy="167.5" r="1.4"/>
<circle cx="235.0" cy="168.6" r="1.4"/>
<circle cx="233.7" cy="175.4" r="1.4"/>
<circle cx="238.9" cy="168.8" r="1.4"/>
<circle cx="236.5" cy="158.9" r="1.4"/>
<circle cx="236.6" cy="173.0" r="1.4"/>
<circle cx="240.6" cy="173.8" r="1.4"/>
<circle cx="240.7" cy="174.2" r="1.4"/>
<circle cx="236.2" cy="172.5" r="1.4"/>
<circle cx="240.8" cy="169.5" r="1.4"/>
<circle cx="233.9" cy="166.0" r="1.4"/>
<circle cx="238.8" cy="164.7" r="1.4"/>
<circle cx="247.3" cy="174.3" r="1.4"/>
<circle cx="245.7" cy="176.6" r="1.4"/>
<circle cx="248.1" cy="176.1" r="1.4"/>
<circle cx="243.4" cy="176.3" r="1.4"/>
<circle cx="242.1" cy="176.5" r="1.4"/>
<circle cx="246.3" cy="176.6" r="1.4"/>
<circle cx="242.1" cy="175.7" r="1.4"/>
<circle cx="251.6" cy="174.4" r="1.4"/>
<circle cx="245.3" cy="173.3" r="1.4"/>
<circle cx="242.8" cy="176.5" r="1.4"/>
<circle cx="242.1" cy="176.6" r="1.4"/>
<circle cx="248.0" cy="174.9" r="1.4"/>
<circle cx="246.8" cy="174.6" r="1.4"/>
<circle cx="246.5" cy="173.4" r="1.4"/>
<circle cx="248.1" cy="175.7" r="1.4"/>
<circle cx="243.7" cy="176.0" r="1.4"/>
<circle cx="246.4" cy="175.6" r="1.4"/>
<circle cx="244.3" cy="177.4" r="1.4"/>
<circle cx="250.2" cy="178.2" r="1.4"/>
<circle cx="247.4" cy="177.7" r="1.4"/>
<circle cx="248.7" cy="176.4" r="1.4"/>
<circle cx="242.9" cy="175.9" r="1.4"/>
<circle cx="246.1" cy="177.3" r="1.4"/>
<circle cx="250.6" cy="175.8" r="1.4"/>
<circle cx="245.1" cy="162.9" r="1.4"/>
<circle cx="247.2" cy="163.0" r="1.4"/>
<circle cx="251.2" cy="159.7" r="1.4"/>
<circle cx="247.1" cy="169.5" r="1.4"/>
<circle cx="243.5" cy="167.1" r="1.4"/>
<circle cx="242.7" cy="165.9" r="1.4"/>
<circle cx="244.9" cy="170.1" r="1.4"/>
<circle cx="251.3" cy="174.5" r="1.4"/>
<circle cx="245.5" cy="161.7" r="1.4"/>
<circle cx="245.4" cy="162.2" r="1.4"/>
<circle cx="246.6" cy="158.4" r="1.4"/>
<circle cx="245.3" cy="169.6" r="1.4"/>
<circle cx="250.7" cy="171.7" r="1.4"/>
<circle cx="244.9" cy="159.2" r="1.4"/>
<circle cx="247.0" cy="170.5" r="1.4"/>
<circle cx="250.5" cy="169.6" r="1.4"/>
<circle cx="248.6" cy="168.9" r="1.4"/>
<circle cx="246.3" cy="167.3" r="1.4"/>
<circle cx="250.8" cy="168.2" r="1.4"/>
<circle cx="248.0" cy="164.3" r="1.4"/>
<circle cx="246.5" cy="159.8" r="1.4"/>
<circle cx="243.1" cy="175.5" r="1.4"/>
<circle cx="252.7" cy="179.6" r="1.4"/>
<circle cx="258.3" cy="179.3" r="1.4"/>
<circle cx="258.6" cy="179.7" r="1.4"/>
<circle cx="256.6" cy="179.5" r="1.4"/>
<circle cx="255.3" cy="178.2" r="1.4"/>
<circle cx="257.1" cy="177.2" r="1.4"/>
<circle cx="260.4" cy="178.4" r="1.4"/>
<circle cx="260.5" cy="179.4" r="1.4"/>
<circle cx="256.7" cy="179.2" r="1.4"/>
<circle cx="258.2" cy="179.5" r="1.4"/>
<circle cx="260.9" cy="179.1" r="1.4"/>
<circle cx="259.8" cy="176.0" r="1.4"/>
<circle cx="261.4" cy="179.1" r="1.4"/>
<circle cx="260.6" cy="172.1" r="1.4"/>
<circle cx="253.3" cy="177.9" r="1.4"/>
<circle cx="259.3" cy="178.9" r="1.4"/>
<circle cx="254.8" cy="169.6" r="1.4"/>
<circle cx="261.3" cy="167.6" r="1.4"/>
<circle cx="258.2" cy="174.3" r="1.4"/>
<circle cx="256.5" cy="178.6" r="1.4"/>
<circle cx="260.2" cy="167.3" r="1.4"/>
<circle cx="257.0" cy="172.5" r="1.4"/>
<circle cx="261.0" cy="168.8" r="1.4"/>
<circle cx="255.4" cy="165.2" r="1.4"/>
<circle cx="261.3" cy="167.5" r="1.4"/>
<circle cx="254.7" cy="160.6" r="1.4"/>
<circle cx="254.2" cy="176.8" r="1.4"/>
<circle cx="254.2" cy="159.8" r="1.4"/>
<circle cx="253.2" cy="155.9" r="1.4"/>
<circle cx="255.1" cy="177.9" r="1.4"/>
<circle cx="253.1" cy="176.1" r="1.4"/>
<circle cx="261.2" cy="176.7" r="1.4"/>
<circle cx="254.6" cy="173.0" r="1.4"/>
<circle cx="252.7" cy="162.2" r="1.4"/>
<circle cx="256.9" cy="172.2" r="1.4"/>
<circle cx="260.5" cy="176.0" r="1.4"/>
<circle cx="259.3" cy="173.4" r="1.4"/>
<circle cx="255.8" cy="168.3" r="1.4"/>
<circle cx="252.4" cy="168.5" r="1.4"/>
<circle cx="253.2" cy="173.6" r="1.4"/>
<circle cx="255.7" cy="172.2" r="1.4"/>
<circle cx="260.4" cy="174.0" r="1.4"/>
<circle cx="255.2" cy="171.9" r="1.4"/>
<circle cx="268.3" cy="183.2" r="1.4"/>
<circle cx="269.9" cy="185.2" r="1.4"/>
<circle cx="267.8" cy="185.4" r="1.4"/>
<circle cx="268.6" cy="184.6" r="1.4"/>
<circle cx="264.8" cy="184.0" r="1.4"/>
<circle cx="264.1" cy="182.4" r="1.4"/>
<circle cx="269.0" cy="184.0" r="1.4"/>
<circle cx="266.9" cy="183.0" r="1.4"/>
<circle cx="268.3" cy="184.2" r="1.4"/>
<circle cx="266.7" cy="184.7" r="1.4"/>
<circle cx="265.5" cy="169.8" r="1.4"/>
<circle cx="270.4" cy="168.7" r="1.4"/>
<circle cx="268.1" cy="172.3" r="1.4"/>
<circle cx="264.8" cy="167.5" r="1.4"/>
<circle cx="268.4" cy="172.1" r="1.4"/>
<circle cx="267.6" cy="182.4" r="1.4"/>
<circle cx="271.3" cy="170.5" r="1.4"/>
<circle cx="264.9" cy="177.4" r="1.4"/>
<circle cx="263.6" cy="158.2" r="1.4"/>
<circle cx="262.8" cy="164.7" r="1.4"/>
<circle cx="268.2" cy="178.6" r="1.4"/>
<circle cx="264.8" cy="175.4" r="1.4"/>
<circle cx="264.6" cy="170.9" r="1.4"/>
<circle cx="263.5" cy="181.0" r="1.4"/>
<circle cx="266.8" cy="162.4" r="1.4"/>
<circle cx="271.6" cy="161.8" r="1.4"/>
<circle cx="267.1" cy="172.8" r="1.4"/>
<circle cx="268.8" cy="167.0" r="1.4"/>
<circle cx="268.1" cy="184.4" r="1.4"/>
<circle cx="269.1" cy="180.7" r="1.4"/>
<circle cx="264.3" cy="179.1" r="1.4"/>
<circle cx="262.6" cy="169.8" r="1.4"/>
<circle cx="266.9" cy="163.8" r="1.4"/>
<circle cx="269.7" cy="157.3" r="1.4"/>
<circle cx="266.4" cy="155.8" r="1.4"/>
<circle cx="265.2" cy="184.8" r="1.4"/>
<circle cx="262.8" cy="179.7" r="1.4"/>
<circle cx="267.4" cy="183.3" r="1.4"/>
<circle cx="263.5" cy="167.0" r="1.4"/>
<circle cx="269.0" cy="182.4" r="1.4"/>
<circle cx="270.3" cy="172.7" r="1.4"/>
<circle cx="271.1" cy="181.6" r="1.4"/>
<circle cx="265.3" cy="177.4" r="1.4"/>
<circle cx="268.7" cy="183.4" r="1.4"/>
<circle cx="269.1" cy="176.6" r="1.4"/>
<circle cx="266.9" cy="178.0" r="1.4"/>
<circle cx="262.5" cy="172.4" r="1.4"/>
<circle cx="277.0" cy="185.5" r="1.4"/>
<circle cx="273.9" cy="182.3" r="1.4"/>
<circle cx="274.8" cy="185.2" r="1.4"/>
<circle cx="280.1" cy="185.3" r="1.4"/>
<circle cx="278.7" cy="184.6" r="1.4"/>
<circle cx="281.0" cy="184.9" r="1.4"/>
<circle cx="275.3" cy="185.3" r="1.4"/>
<circle cx="275.6" cy="185.5" r="1.4"/>
<circle cx="273.2" cy="185.5" r="1.4"/>
<circle cx="275.1" cy="183.8" r="1.4"/>
<circle cx="281.4" cy="185.1" r="1.4"/>
<circle cx="274.5" cy="185.2" r="1.4"/>
<circle cx="278.3" cy="184.9" r="1.4"/>
<circle cx="273.2" cy="184.7" r="1.4"/>
<circle cx="274.7" cy="185.5" r="1.4"/>
<circle cx="279.9" cy="185.5" r="1.4"/>
<circle cx="276.4" cy="177.6" r="1.4"/>
<circle cx="280.7" cy="157.1" r="1.4"/>
<circle cx="272.4" cy="175.0" r="1.4"/>
<circle cx="272.0" cy="155.8" r="1.4"/>
<circle cx="279.2" cy="182.5" r="1.4"/>
<circle cx="272.1" cy="171.5" r="1.4"/>
<circle cx="281.1" cy="167.1" r="1.4"/>
<circle cx="281.9" cy="176.4" r="1.4"/>
<circle cx="272.8" cy="169.9" r="1.4"/>
<circle cx="276.5" cy="157.1" r="1.4"/>
<circle cx="276.8" cy="162.2" r="1.4"/>
<circle cx="274.4" cy="182.4" r="1.4"/>
<circle cx="274.4" cy="179.1" r="1.4"/>
<circle cx="277.2" cy="180.1" r="1.4"/>
<circle cx="277.2" cy="181.1" r="1.4"/>
<circle cx="272.3" cy="173.3" r="1.4"/>
<circle cx="272.1" cy="172.9" r="1.4"/>
<circle cx="274.3" cy="170.7" r="1.4"/>
<circle cx="274.1" cy="176.3" r="1.4"/>
<circle cx="272.7" cy="158.8" r="1.4"/>
<circle cx="277.8" cy="164.1" r="1.4"/>
<circle cx="272.5" cy="184.5" r="1.4"/>
<circle cx="278.6" cy="172.7" r="1.4"/>
<circle cx="280.4" cy="179.2" r="1.4"/>
<circle cx="274.3" cy="169.8" r="1.4"/>
<circle cx="273.8" cy="158.6" r="1.4"/>
<circle cx="281.0" cy="162.0" r="1.4"/>
<circle cx="273.3" cy="183.4" r="1.4"/>
<circle cx="276.8" cy="171.9" r="1.4"/>
<circle cx="281.8" cy="157.8" r="1.4"/>
<circle cx="280.4" cy="181.1" r="1.4"/>
<circle cx="272.7" cy="165.8" r="1.4"/>
<circle cx="281.1" cy="161.4" r="1.4"/>
<circle cx="275.5" cy="180.4" r="1.4"/>
<circle cx="274.3" cy="174.3" r="1.4"/>
<circle cx="274.7" cy="157.1" r="1.4"/>
<circle cx="278.0" cy="184.5" r="1.4"/>
<circle cx="272.3" cy="164.8" r="1.4"/>
<circle cx="274.0" cy="181.5" r="1.4"/>
<circle cx="288.1" cy="185.4" r="1.4"/>
<circle cx="289.2" cy="185.5" r="1.4"/>
<circle cx="283.9" cy="185.5" r="1.4"/>
<circle cx="283.1" cy="185.5" r="1.4"/>
<circle cx="291.5" cy="182.3" r="1.4"/>
<circle cx="285.5" cy="185.5" r="1.4"/>
<circle cx="284.8" cy="184.2" r="1.4"/>
<circle cx="286.9" cy="185.5" r="1.4"/>
<circle cx="290.8" cy="182.8" r="1.4"/>
<circle cx="282.5" cy="185.4" r="1.4"/>
<circle cx="284.2" cy="184.9" r="1.4"/>
<circle cx="285.6" cy="185.5" r="1.4"/>
<circle cx="285.0" cy="185.0" r="1.4"/>
<circle cx="287.0" cy="185.3" r="1.4"/>
<circle cx="288.8" cy="185.4" r="1.4"/>
<circle cx="291.5" cy="185.4" r="1.4"/>
<circle cx="289.9" cy="179.2" r="1.4"/>
<circle cx="287.9" cy="180.8" r="1.4"/>
<circle cx="283.9" cy="180.8" r="1.4"/>
<circle cx="282.2" cy="172.7" r="1.4"/>
<circle cx="284.5" cy="184.8" r="1.4"/>
<circle cx="288.7" cy="172.4" r="1.4"/>
<circle cx="288.8" cy="180.6" r="1.4"/>
<circle cx="284.2" cy="168.4" r="1.4"/>
<circle cx="287.8" cy="171.6" r="1.4"/>
<circle cx="290.9" cy="180.8" r="1.4"/>
<circle cx="283.4" cy="171.6" r="1.4"/>
<circle cx="288.2" cy="172.5" r="1.4"/>
<circle cx="284.7" cy="156.2" r="1.4"/>
<circle cx="288.6" cy="168.6" r="1.4"/>
<circle cx="288.6" cy="183.2" r="1.4"/>
<circle cx="283.1" cy="167.5" r="1.4"/>
<circle cx="291.8" cy="183.2" r="1.4"/>
<circle cx="291.9" cy="172.8" r="1.4"/>
<circle cx="286.7" cy="162.7" r="1.4"/>
<circle cx="287.8" cy="156.8" r="1.4"/>
<circle cx="287.3" cy="177.7" r="1.4"/>
<circle cx="287.9" cy="182.1" r="1.4"/>
<circle cx="283.3" cy="173.2" r="1.4"/>
<circle cx="283.3" cy="181.4" r="1.4"/>
<circle cx="289.6" cy="181.5" r="1.4"/>
<circle cx="289.6" cy="165.5" r="1.4"/>
<circle cx="289.0" cy="185.4" r="1.4"/>
<circle cx="287.9" cy="178.5" r="1.4"/>
<circle cx="291.8" cy="163.6" r="1.4"/>
<circle cx="286.4" cy="176.4" r="1.4"/>
<circle cx="284.3" cy="167.3" r="1.4"/>
<circle cx="291.1" cy="176.7" r="1.4"/>
<circle cx="288.5" cy="174.7" r="1.4"/>
<circle cx="284.7" cy="174.2" r="1.4"/>
<circle cx="282.4" cy="174.7" r="1.4"/>
<circle cx="288.9" cy="176.5" r="1.4"/>
<circle cx="290.2" cy="175.0" r="1.4"/>
<circle cx="299.5" cy="184.7" r="1.4"/>
<circle cx="296.3" cy="183.3" r="1.4"/>
<circle cx="292.3" cy="185.2" r="1.4"/>
<circle cx="300.6" cy="183.5" r="1.4"/>
<circle cx="293.9" cy="184.1" r="1.4"/>
<circle cx="297.3" cy="182.6" r="1.4"/>
<circle cx="295.3" cy="184.8" r="1.4"/>
<circle cx="298.4" cy="180.1" r="1.4"/>
<circle cx="295.4" cy="185.5" r="1.4"/>
<circle cx="293.2" cy="184.7" r="1.4"/>
<circle cx="292.7" cy="183.7" r="1.4"/>
<circle cx="293.5" cy="185.5" r="1.4"/>
<circle cx="301.5" cy="185.3" r="1.4"/>
<circle cx="299.5" cy="185.5" r="1.4"/>
<circle cx="294.4" cy="185.5" r="1.4"/>
<circle cx="301.8" cy="185.5" r="1.4"/>
<circle cx="301.0" cy="180.2" r="1.4"/>
<circle cx="294.7" cy="184.0" r="1.4"/>
<circle cx="297.9" cy="167.2" r="1.4"/>
<circle cx="301.6" cy="181.0" r="1.4"/>
<circle cx="294.0" cy="162.1" r="1.4"/>
<circle cx="292.0" cy="177.8" r="1.4"/>
<circle cx="296.9" cy="168.7" r="1.4"/>
<circle cx="298.8" cy="168.0" r="1.4"/>
<circle cx="297.3" cy="178.3" r="1.4"/>
<circle cx="298.4" cy="160.8" r="1.4"/>
<circle cx="293.0" cy="159.5" r="1.4"/>
<circle cx="300.3" cy="158.7" r="1.4"/>
<circle cx="298.1" cy="180.6" r="1.4"/>
<circle cx="295.8" cy="162.6" r="1.4"/>
<circle cx="299.1" cy="177.4" r="1.4"/>
<circle cx="295.6" cy="175.9" r="1.4"/>
<circle cx="294.1" cy="185.2" r="1.4"/>
<circle cx="293.8" cy="163.6" r="1.4"/>
<circle cx="295.9" cy="165.0" r="1.4"/>
<circle cx="294.7" cy="179.4" r="1.4"/>
<circle cx="294.2" cy="172.7" r="1.4"/>
<circle cx="300.9" cy="158.0" r="1.4"/>
<circle cx="294.6" cy="182.3" r="1.4"/>
<circle cx="295.2" cy="173.6" r="1.4"/>
<circle cx="300.4" cy="180.5" r="1.4"/>
<circle cx="293.8" cy="180.5" r="1.4"/>
<circle cx="294.5" cy="180.5" r="1.4"/>
<circle cx="298.8" cy="176.8" r="1.4"/>
<circle cx="294.5" cy="182.1" r="1.4"/>
<circle cx="296.4" cy="169.8" r="1.4"/>
<circle cx="294.6" cy="171.0" r="1.4"/>
<circle cx="300.6" cy="184.4" r="1.4"/>
<circle cx="294.3" cy="176.1" r="1.4"/>
<circle cx="300.8" cy="169.3" r="1.4"/>
<circle cx="294.6" cy="173.7" r="1.4"/>
<circle cx="300.8" cy="175.1" r="1.4"/>
<circle cx="292.3" cy="173.0" r="1.4"/>
<circle cx="305.7" cy="183.6" r="1.4"/>
<circle cx="302.1" cy="183.9" r="1.4"/>
<circle cx="310.9" cy="180.7" r="1.4"/>
<circle cx="308.9" cy="183.2" r="1.4"/>
<circle cx="308.0" cy="175.3" r="1.4"/>
<circle cx="307.0" cy="181.1" r="1.4"/>
<circle cx="307.5" cy="183.5" r="1.4"/>
<circle cx="305.1" cy="183.3" r="1.4"/>
<circle cx="306.9" cy="181.0" r="1.4"/>
<circle cx="312.0" cy="177.5" r="1.4"/>
<circle cx="302.7" cy="184.2" r="1.4"/>
<circle cx="304.6" cy="184.6" r="1.4"/>
<circle cx="304.5" cy="184.5" r="1.4"/>
<circle cx="303.4" cy="168.2" r="1.4"/>
<circle cx="303.7" cy="166.0" r="1.4"/>
<circle cx="310.3" cy="182.7" r="1.4"/>
<circle cx="309.3" cy="170.5" r="1.4"/>
<circle cx="306.2" cy="173.1" r="1.4"/>
<circle cx="311.1" cy="161.3" r="1.4"/>
<circle cx="308.3" cy="178.4" r="1.4"/>
<circle cx="307.8" cy="169.5" r="1.4"/>
<circle cx="304.5" cy="171.2" r="1.4"/>
<circle cx="306.2" cy="178.1" r="1.4"/>
<circle cx="304.8" cy="169.8" r="1.4"/>
<circle cx="303.6" cy="182.6" r="1.4"/>
<circle cx="308.6" cy="183.0" r="1.4"/>
<circle cx="308.0" cy="168.3" r="1.4"/>
<circle cx="307.6" cy="168.8" r="1.4"/>
<circle cx="307.0" cy="171.7" r="1.4"/>
<circle cx="310.4" cy="172.1" r="1.4"/>
<circle cx="304.4" cy="177.1" r="1.4"/>
<circle cx="305.0" cy="172.7" r="1.4"/>
<circle cx="308.3" cy="173.2" r="1.4"/>
<circle cx="307.4" cy="165.1" r="1.4"/>
<circle cx="304.4" cy="157.7" r="1.4"/>
<circle cx="303.5" cy="170.3" r="1.4"/>
<circle cx="306.9" cy="177.6" r="1.4"/>
<circle cx="303.8" cy="161.2" r="1.4"/>
<circle cx="303.4" cy="173.2" r="1.4"/>
<circle cx="304.0" cy="184.2" r="1.4"/>
<circle cx="304.1" cy="173.8" r="1.4"/>
<circle cx="312.0" cy="158.5" r="1.4"/>
<circle cx="308.6" cy="171.7" r="1.4"/>
<circle cx="309.1" cy="181.9" r="1.4"/>
<circle cx="311.9" cy="178.9" r="1.4"/>
<circle cx="302.6" cy="184.3" r="1.4"/>
<circle cx="309.8" cy="174.7" r="1.4"/>
<circle cx="308.3" cy="176.0" r="1.4"/>
<circle cx="302.7" cy="156.9" r="1.4"/>
<circle cx="309.1" cy="166.7" r="1.4"/>
<circle cx="313.1" cy="175.2" r="1.4"/>
<circle cx="316.3" cy="175.9" r="1.4"/>
<circle cx="314.3" cy="174.8" r="1.4"/>
<circle cx="319.8" cy="175.0" r="1.4"/>
<circle cx="316.3" cy="175.8" r="1.4"/>
<circle cx="316.0" cy="175.9" r="1.4"/>
<circle cx="315.3" cy="175.9" r="1.4"/>
<circle cx="321.6" cy="174.6" r="1.4"/>
<circle cx="313.4" cy="175.3" r="1.4"/>
<circle cx="320.2" cy="176.2" r="1.4"/>
<circle cx="320.9" cy="173.0" r="1.4"/>
<circle cx="312.7" cy="175.4" r="1.4"/>
<circle cx="315.8" cy="175.9" r="1.4"/>
<circle cx="317.5" cy="174.1" r="1.4"/>
<circle cx="318.3" cy="173.9" r="1.4"/>
<circle cx="314.5" cy="174.6" r="1.4"/>
<circle cx="315.9" cy="177.8" r="1.4"/>
<circle cx="320.0" cy="176.4" r="1.4"/>
<circle cx="314.3" cy="175.4" r="1.4"/>
<circle cx="316.9" cy="176.1" r="1.4"/>
<circle cx="321.9" cy="177.3" r="1.4"/>
<circle cx="317.4" cy="176.5" r="1.4"/>
<circle cx="314.9" cy="176.6" r="1.4"/>
<circle cx="321.7" cy="176.0" r="1.4"/>
<circle cx="314.7" cy="172.0" r="1.4"/>
<circle cx="315.7" cy="168.4" r="1.4"/>
<circle cx="319.8" cy="174.6" r="1.4"/>
<circle cx="315.0" cy="169.6" r="1.4"/>
<circle cx="313.3" cy="176.5" r="1.4"/>
<circle cx="316.2" cy="158.0" r="1.4"/>
<circle cx="320.5" cy="170.1" r="1.4"/>
<circle cx="317.0" cy="172.1" r="1.4"/>
<circle cx="316.0" cy="173.5" r="1.4"/>
<circle cx="318.0" cy="175.6" r="1.4"/>
<circle cx="321.6" cy="166.5" r="1.4"/>
<circle cx="319.6" cy="175.1" r="1.4"/>
<circle cx="316.2" cy="173.7" r="1.4"/>
<circle cx="319.0" cy="167.8" r="1.4"/>
<circle cx="313.5" cy="176.1" r="1.4"/>
<circle cx="312.4" cy="170.0" r="1.4"/>
<circle cx="316.4" cy="164.2" r="1.4"/>
<circle cx="313.0" cy="169.4" r="1.4"/>
<circle cx="319.3" cy="172.4" r="1.4"/>
<circle cx="317.1" cy="168.9" r="1.4"/>
<circle cx="312.4" cy="173.5" r="1.4"/>
<circle cx="313.0" cy="160.1" r="1.4"/>
<circle cx="317.1" cy="173.7" r="1.4"/>
<circle cx="313.5" cy="164.9" r="1.4"/>
<circle cx="323.4" cy="169.9" r="1.4"/>
<circle cx="330.2" cy="171.2" r="1.4"/>
<circle cx="325.9" cy="170.0" r="1.4"/>
<circle cx="324.9" cy="170.9" r="1.4"/>
<circle cx="331.9" cy="171.5" r="1.4"/>
<circle cx="331.4" cy="168.9" r="1.4"/>
<circle cx="332.0" cy="171.3" r="1.4"/>
<circle cx="324.0" cy="171.0" r="1.4"/>
<circle cx="323.7" cy="168.3" r="1.4"/>
<circle cx="327.7" cy="169.3" r="1.4"/>
<circle cx="326.9" cy="170.8" r="1.4"/>
<circle cx="331.6" cy="171.5" r="1.4"/>
<circle cx="324.3" cy="169.2" r="1.4"/>
<circle cx="327.9" cy="169.7" r="1.4"/>
<circle cx="332.0" cy="169.8" r="1.4"/>
<circle cx="328.1" cy="169.9" r="1.4"/>
<circle cx="327.3" cy="174.4" r="1.4"/>
<circle cx="325.3" cy="170.4" r="1.4"/>
<circle cx="327.3" cy="175.5" r="1.4"/>
<circle cx="328.4" cy="170.0" r="1.4"/>
<circle cx="328.3" cy="172.9" r="1.4"/>
<circle cx="326.6" cy="172.1" r="1.4"/>
<circle cx="328.1" cy="172.9" r="1.4"/>
<circle cx="331.0" cy="170.6" r="1.4"/>
<circle cx="329.8" cy="171.6" r="1.4"/>
<circle cx="329.2" cy="174.5" r="1.4"/>
<circle cx="326.9" cy="174.1" r="1.4"/>
<circle cx="324.0" cy="170.3" r="1.4"/>
<circle cx="324.3" cy="171.0" r="1.4"/>
<circle cx="330.3" cy="173.4" r="1.4"/>
<circle cx="322.2" cy="174.6" r="1.4"/>
<circle cx="328.5" cy="171.6" r="1.4"/>
<circle cx="325.5" cy="172.3" r="1.4"/>
<circle cx="323.6" cy="171.9" r="1.4"/>
<circle cx="329.8" cy="171.2" r="1.4"/>
<circle cx="327.6" cy="172.4" r="1.4"/>
<circle cx="322.0" cy="165.7" r="1.4"/>
<circle cx="322.7" cy="156.2" r="1.4"/>
<circle cx="328.8" cy="168.8" r="1.4"/>
<circle cx="330.7" cy="166.0" r="1.4"/>
<circle cx="325.9" cy="171.1" r="1.4"/>
<circle cx="323.5" cy="168.3" r="1.4"/>
<circle cx="325.4" cy="163.9" r="1.4"/>
<circle cx="329.5" cy="167.7" r="1.4"/>
<circle cx="322.6" cy="171.1" r="1.4"/>
<circle cx="329.6" cy="169.1" r="1.4"/>
<circle cx="323.2" cy="164.9" r="1.4"/>
<circle cx="326.7" cy="159.8" r="1.4"/>
<circle cx="326.4" cy="162.2" r="1.4"/>
<circle cx="325.3" cy="171.1" r="1.4"/>
<circle cx="331.7" cy="157.2" r="1.4"/>
<circle cx="326.2" cy="164.6" r="1.4"/>
<circle cx="327.1" cy="162.8" r="1.4"/>
<circle cx="322.1" cy="169.0" r="1.4"/>
<circle cx="330.4" cy="165.0" r="1.4"/>
<circle cx="331.5" cy="161.0" r="1.4"/>
<circle cx="324.5" cy="164.9" r="1.4"/>
<circle cx="328.7" cy="168.1" r="1.4"/>
<circle cx="324.0" cy="164.6" r="1.4"/>
<circle cx="326.8" cy="171.3" r="1.4"/>
<circle cx="328.9" cy="169.9" r="1.4"/>
<circle cx="327.1" cy="160.8" r="1.4"/>
<circle cx="334.7" cy="172.4" r="1.4"/>
<circle cx="335.9" cy="171.8" r="1.4"/>
<circle cx="332.3" cy="172.1" r="1.4"/>
<circle cx="341.6" cy="171.8" r="1.4"/>
<circle cx="335.7" cy="171.9" r="1.4"/>
<circle cx="339.0" cy="171.8" r="1.4"/>
<circle cx="336.0" cy="171.6" r="1.4"/>
<circle cx="334.8" cy="171.2" r="1.4"/>
<circle cx="336.2" cy="171.1" r="1.4"/>
<circle cx="335.5" cy="171.4" r="1.4"/>
<circle cx="334.0" cy="171.8" r="1.4"/>
<circle cx="336.9" cy="172.7" r="1.4"/>
<circle cx="333.3" cy="171.9" r="1.4"/>
<circle cx="339.7" cy="170.5" r="1.4"/>
<circle cx="340.4" cy="170.6" r="1.4"/>
<circle cx="341.7" cy="172.4" r="1.4"/>
<circle cx="333.5" cy="175.5" r="1.4"/>
<circle cx="339.9" cy="175.2" r="1.4"/>
<circle cx="335.2" cy="175.5" r="1.4"/>
<circle cx="341.1" cy="175.1" r="1.4"/>
<circle cx="334.4" cy="173.1" r="1.4"/>
<circle cx="339.0" cy="176.0" r="1.4"/>
<circle cx="337.8" cy="173.4" r="1.4"/>
<circle cx="337.5" cy="173.5" r="1.4"/>
<circle cx="340.0" cy="171.9" r="1.4"/>
<circle cx="340.6" cy="174.5" r="1.4"/>
<circle cx="332.4" cy="173.8" r="1.4"/>
<circle cx="332.3" cy="172.9" r="1.4"/>
<circle cx="336.8" cy="172.3" r="1.4"/>
<circle cx="340.3" cy="172.4" r="1.4"/>
<circle cx="338.9" cy="174.5" r="1.4"/>
<circle cx="339.3" cy="172.9" r="1.4"/>
<circle cx="334.2" cy="171.7" r="1.4"/>
<circle cx="336.7" cy="173.4" r="1.4"/>
<circle cx="334.0" cy="168.1" r="1.4"/>
<circle cx="339.4" cy="168.6" r="1.4"/>
<circle cx="337.9" cy="165.3" r="1.4"/>
<circle cx="340.0" cy="161.1" r="1.4"/>
<circle cx="332.3" cy="162.5" r="1.4"/>
<circle cx="336.4" cy="165.4" r="1.4"/>
<circle cx="339.8" cy="171.9" r="1.4"/>
<circle cx="333.9" cy="169.5" r="1.4"/>
<circle cx="339.7" cy="164.5" r="1.4"/>
<circle cx="335.9" cy="172.3" r="1.4"/>
<circle cx="338.5" cy="171.3" r="1.4"/>
<circle cx="336.3" cy="171.3" r="1.4"/>
<circle cx="339.2" cy="164.6" r="1.4"/>
<circle cx="339.3" cy="165.7" r="1.4"/>
<circle cx="344.5" cy="178.2" r="1.4"/>
<circle cx="348.5" cy="176.1" r="1.4"/>
<circle cx="347.9" cy="178.8" r="1.4"/>
<circle cx="350.8" cy="179.5" r="1.4"/>
<circle cx="347.9" cy="174.0" r="1.4"/>
<circle cx="345.3" cy="179.5" r="1.4"/>
<circle cx="349.3" cy="179.0" r="1.4"/>
<circle cx="350.2" cy="177.4" r="1.4"/>
<circle cx="344.6" cy="179.3" r="1.4"/>
<circle cx="345.4" cy="178.9" r="1.4"/>
<circle cx="347.3" cy="174.3" r="1.4"/>
<circle cx="351.0" cy="179.3" r="1.4"/>
<circle cx="347.4" cy="179.1" r="1.4"/>
<circle cx="351.3" cy="174.0" r="1.4"/>
<circle cx="345.7" cy="177.5" r="1.4"/>
<circle cx="344.8" cy="173.5" r="1.4"/>
<circle cx="356.0" cy="178.9" r="1.4"/>
<circle cx="355.9" cy="180.4" r="1.4"/>
<circle cx="353.7" cy="179.6" r="1.4"/>
<circle cx="356.2" cy="180.6" r="1.4"/>
<circle cx="359.7" cy="180.7" r="1.4"/>
<circle cx="352.8" cy="179.9" r="1.4"/>
<circle cx="359.4" cy="181.1" r="1.4"/>
<circle cx="355.5" cy="178.4" r="1.4"/>
<circle cx="357.1" cy="180.5" r="1.4"/>
<circle cx="353.3" cy="180.8" r="1.4"/>
<circle cx="357.9" cy="178.0" r="1.4"/>
<circle cx="358.6" cy="176.7" r="1.4"/>
<circle cx="356.1" cy="181.1" r="1.4"/>
<circle cx="355.4" cy="180.6" r="1.4"/>
<circle cx="352.6" cy="181.1" r="1.4"/>
<circle cx="361.1" cy="178.3" r="1.4"/>
<circle cx="353.3" cy="180.9" r="1.4"/>
<circle cx="353.7" cy="177.6" r="1.4"/>
<circle cx="364.1" cy="181.7" r="1.4"/>
<circle cx="366.6" cy="179.8" r="1.4"/>
<circle cx="362.7" cy="180.8" r="1.4"/>
<circle cx="363.3" cy="179.7" r="1.4"/>
<circle cx="371.0" cy="179.0" r="1.4"/>
<circle cx="367.3" cy="181.5" r="1.4"/>
<circle cx="369.2" cy="181.6" r="1.4"/>
<circle cx="369.8" cy="181.2" r="1.4"/>
<circle cx="369.4" cy="180.8" r="1.4"/>
<circle cx="364.4" cy="180.8" r="1.4"/>
<circle cx="366.3" cy="181.5" r="1.4"/>
<circle cx="367.5" cy="180.7" r="1.4"/>
<circle cx="369.0" cy="181.2" r="1.4"/>
<circle cx="368.1" cy="181.4" r="1.4"/>
<circle cx="367.2" cy="181.3" r="1.4"/>
<circle cx="369.9" cy="178.3" r="1.4"/>
<circle cx="362.7" cy="179.6" r="1.4"/>
<circle cx="373.8" cy="177.5" r="1.4"/>
<circle cx="379.1" cy="177.2" r="1.4"/>
<circle cx="373.7" cy="177.0" r="1.4"/>
<circle cx="378.7" cy="175.9" r="1.4"/>
<circle cx="379.2" cy="176.7" r="1.4"/>
<circle cx="374.7" cy="176.8" r="1.4"/>
<circle cx="372.5" cy="176.2" r="1.4"/>
<circle cx="378.7" cy="174.5" r="1.4"/>
<circle cx="378.6" cy="176.3" r="1.4"/>
<circle cx="378.4" cy="177.3" r="1.4"/>
<circle cx="376.5" cy="177.5" r="1.4"/>
<circle cx="379.5" cy="176.8" r="1.4"/>
<circle cx="373.4" cy="176.0" r="1.4"/>
<circle cx="377.0" cy="178.3" r="1.4"/>
<circle cx="378.8" cy="177.1" r="1.4"/>
<circle cx="377.0" cy="176.4" r="1.4"/>
<circle cx="374.5" cy="174.1" r="1.4"/>
<circle cx="373.6" cy="173.2" r="1.4"/>
<circle cx="373.6" cy="169.1" r="1.4"/>
<circle cx="376.6" cy="176.0" r="1.4"/>
<circle cx="378.8" cy="176.0" r="1.4"/>
<circle cx="374.6" cy="176.8" r="1.4"/>
<circle cx="374.1" cy="174.0" r="1.4"/>
<circle cx="380.5" cy="172.6" r="1.4"/>
<circle cx="388.0" cy="170.8" r="1.4"/>
<circle cx="384.2" cy="170.7" r="1.4"/>
<circle cx="380.4" cy="170.6" r="1.4"/>
<circle cx="386.8" cy="171.5" r="1.4"/>
<circle cx="384.5" cy="172.5" r="1.4"/>
<circle cx="388.3" cy="173.4" r="1.4"/>
<circle cx="381.8" cy="171.9" r="1.4"/>
<circle cx="388.8" cy="173.4" r="1.4"/>
<circle cx="385.5" cy="172.8" r="1.4"/>
<circle cx="383.1" cy="171.3" r="1.4"/>
<circle cx="382.8" cy="171.7" r="1.4"/>
<circle cx="384.1" cy="173.5" r="1.4"/>
<circle cx="389.6" cy="173.5" r="1.4"/>
<circle cx="381.0" cy="173.7" r="1.4"/>
<circle cx="383.5" cy="173.7" r="1.4"/>
<circle cx="381.6" cy="172.3" r="1.4"/>
<circle cx="382.5" cy="173.4" r="1.4"/>
<circle cx="382.1" cy="176.7" r="1.4"/>
<circle cx="380.1" cy="176.2" r="1.4"/>
<circle cx="389.5" cy="174.6" r="1.4"/>
<circle cx="382.5" cy="176.5" r="1.4"/>
<circle cx="386.4" cy="175.2" r="1.4"/>
<circle cx="381.8" cy="174.7" r="1.4"/>
<circle cx="387.1" cy="175.1" r="1.4"/>
<circle cx="385.6" cy="175.9" r="1.4"/>
<circle cx="385.6" cy="176.5" r="1.4"/>
<circle cx="389.2" cy="172.3" r="1.4"/>
<circle cx="385.8" cy="174.5" r="1.4"/>
<circle cx="384.0" cy="173.2" r="1.4"/>
<circle cx="385.8" cy="173.4" r="1.4"/>
<circle cx="384.4" cy="171.4" r="1.4"/>
<circle cx="381.8" cy="166.4" r="1.4"/>
<circle cx="382.1" cy="167.3" r="1.4"/>
<circle cx="387.4" cy="173.0" r="1.4"/>
<circle cx="384.7" cy="164.1" r="1.4"/>
<circle cx="386.0" cy="167.0" r="1.4"/>
<circle cx="380.9" cy="171.8" r="1.4"/>
<circle cx="387.6" cy="167.5" r="1.4"/>
<circle cx="389.2" cy="163.6" r="1.4"/>
<circle cx="388.7" cy="168.8" r="1.4"/>
<circle cx="396.5" cy="171.9" r="1.4"/>
<circle cx="397.8" cy="173.4" r="1.4"/>
<circle cx="396.8" cy="170.4" r="1.4"/>
<circle cx="397.3" cy="172.7" r="1.4"/>
<circle cx="393.7" cy="168.6" r="1.4"/>
<circle cx="399.2" cy="171.6" r="1.4"/>
<circle cx="394.7" cy="170.8" r="1.4"/>
<circle cx="398.1" cy="172.8" r="1.4"/>
<circle cx="391.2" cy="172.5" r="1.4"/>
<circle cx="391.3" cy="173.2" r="1.4"/>
<circle cx="395.3" cy="172.8" r="1.4"/>
<circle cx="396.0" cy="171.5" r="1.4"/>
<circle cx="398.8" cy="173.2" r="1.4"/>
<circle cx="398.9" cy="173.2" r="1.4"/>
<circle cx="393.2" cy="173.2" r="1.4"/>
<circle cx="399.1" cy="174.3" r="1.4"/>
<circle cx="397.4" cy="172.8" r="1.4"/>
<circle cx="392.9" cy="173.8" r="1.4"/>
<circle cx="398.7" cy="176.7" r="1.4"/>
<circle cx="391.2" cy="172.6" r="1.4"/>
<circle cx="395.3" cy="174.8" r="1.4"/>
<circle cx="397.4" cy="174.6" r="1.4"/>
<circle cx="391.3" cy="175.1" r="1.4"/>
<circle cx="397.1" cy="173.7" r="1.4"/>
<circle cx="394.6" cy="176.7" r="1.4"/>
<circle cx="399.3" cy="176.4" r="1.4"/>
<circle cx="392.6" cy="173.0" r="1.4"/>
<circle cx="398.7" cy="173.5" r="1.4"/>
<circle cx="393.6" cy="171.7" r="1.4"/>
<circle cx="395.4" cy="170.9" r="1.4"/>
<circle cx="395.0" cy="172.3" r="1.4"/>
<circle cx="391.0" cy="171.4" r="1.4"/>
<circle cx="390.4" cy="167.9" r="1.4"/>
<circle cx="394.3" cy="170.4" r="1.4"/>
<circle cx="274.6" cy="133.4" r="1.4"/>
<circle cx="274.6" cy="136.5" r="1.4"/>
<circle cx="273.6" cy="140.2" r="1.4"/>
<circle cx="277.3" cy="141.3" r="1.4"/>
<circle cx="279.3" cy="137.9" r="1.4"/>
<circle cx="256.5" cy="140.2" r="1.4"/>
<circle cx="259.0" cy="140.2" r="1.4"/>
<circle cx="257.6" cy="146.1" r="1.4"/>
<circle cx="248.4" cy="146.5" r="1.4"/>
<circle cx="248.1" cy="150.8" r="1.4"/>
<circle cx="251.9" cy="150.1" r="1.4"/>
<circle cx="254.2" cy="150.1" r="1.4"/>
<circle cx="242.0" cy="152.2" r="1.4"/>
<circle cx="243.3" cy="154.2" r="1.4"/>
<circle cx="252.2" cy="153.5" r="1.4"/>
<circle cx="254.2" cy="155.6" r="1.4"/>
<circle cx="256.3" cy="156.9" r="1.4"/>
<circle cx="258.3" cy="157.6" r="1.4"/>
<circle cx="242.7" cy="156.0" r="1.4"/>
<circle cx="252.9" cy="157.6" r="1.4"/>
<circle cx="263.7" cy="153.5" r="1.4"/>
<circle cx="265.1" cy="156.9" r="1.4"/>
<circle cx="269.8" cy="157.3" r="1.4"/>
<circle cx="274.6" cy="150.8" r="1.4"/>
<circle cx="278.0" cy="152.9" r="1.4"/>
<circle cx="278.7" cy="147.4" r="1.4"/>
<circle cx="227.7" cy="159.2" r="1.4"/>
<circle cx="273.9" cy="159.2" r="1.4"/>
<circle cx="276.6" cy="159.2" r="1.4"/>
<circle cx="301.1" cy="128.8" r="1.4"/>
<circle cx="297.0" cy="129.8" r="1.4"/>
<circle cx="294.6" cy="131.1" r="1.4"/>
<circle cx="293.9" cy="133.4" r="1.4"/>
<circle cx="290.2" cy="133.8" r="1.4"/>
<circle cx="310.3" cy="130.7" r="1.4"/>
<circle cx="310.3" cy="134.8" r="1.4"/>
<circle cx="310.3" cy="135.9" r="1.4"/>
<circle cx="280.4" cy="137.9" r="1.4"/>
<circle cx="278.7" cy="142.0" r="1.4"/>
<circle cx="280.0" cy="143.3" r="1.4"/>
<circle cx="290.0" cy="142.7" r="1.4"/>
<circle cx="302.2" cy="142.7" r="1.4"/>
<circle cx="302.5" cy="144.7" r="1.4"/>
<circle cx="306.5" cy="143.8" r="1.4"/>
<circle cx="307.6" cy="144.7" r="1.4"/>
<circle cx="310.3" cy="141.6" r="1.4"/>
<circle cx="314.7" cy="146.5" r="1.4"/>
<circle cx="325.6" cy="148.4" r="1.4"/>
<circle cx="278.7" cy="146.7" r="1.4"/>
<circle cx="280.0" cy="147.4" r="1.4"/>
<circle cx="295.0" cy="147.4" r="1.4"/>
<circle cx="296.3" cy="148.8" r="1.4"/>
<circle cx="291.6" cy="148.1" r="1.4"/>
<circle cx="302.2" cy="150.1" r="1.4"/>
<circle cx="307.2" cy="150.1" r="1.4"/>
<circle cx="307.2" cy="151.5" r="1.4"/>
<circle cx="318.1" cy="150.1" r="1.4"/>
<circle cx="319.4" cy="151.9" r="1.4"/>
<circle cx="292.9" cy="152.2" r="1.4"/>
<circle cx="295.0" cy="153.5" r="1.4"/>
<circle cx="298.4" cy="153.5" r="1.4"/>
<circle cx="279.4" cy="152.2" r="1.4"/>
<circle cx="280.7" cy="154.2" r="1.4"/>
<circle cx="286.8" cy="155.6" r="1.4"/>
<circle cx="288.2" cy="156.9" r="1.4"/>
<circle cx="291.6" cy="157.6" r="1.4"/>
<circle cx="295.7" cy="155.6" r="1.4"/>
<circle cx="299.7" cy="156.3" r="1.4"/>
<circle cx="303.1" cy="157.6" r="1.4"/>
<circle cx="306.5" cy="155.6" r="1.4"/>
<circle cx="310.6" cy="157.6" r="1.4"/>
<circle cx="313.3" cy="157.3" r="1.4"/>
<circle cx="321.5" cy="156.3" r="1.4"/>
<circle cx="324.9" cy="154.2" r="1.4"/>
<circle cx="324.9" cy="158.3" r="1.4"/>
<circle cx="297.2" cy="41.7" r="1.4"/>
<circle cx="300.9" cy="41.7" r="1.4"/>
<circle cx="300.7" cy="50.3" r="1.4"/>
<circle cx="295.9" cy="93.2" r="1.4"/>
<circle cx="296.9" cy="104.6" r="1.4"/>
<circle cx="301.1" cy="114.0" r="1.4"/>
<circle cx="295.5" cy="118.3" r="1.4"/>
<circle cx="301.4" cy="124.2" r="1.4"/>
<circle cx="83.8" cy="168.3" r="1.4"/>
<circle cx="100.3" cy="165.8" r="1.4"/>
<circle cx="125.7" cy="162.3" r="1.4"/>
<circle cx="130.3" cy="166.4" r="1.4"/>
<circle cx="134.7" cy="166.4" r="1.4"/>
<circle cx="178.6" cy="159.3" r="1.4"/>
<circle cx="181.7" cy="162.1" r="1.4"/>
<circle cx="165.9" cy="164.6" r="1.4"/>
<circle cx="176.1" cy="165.4" r="1.4"/>
<circle cx="212.6" cy="163.3" r="1.4"/>
<circle cx="226.0" cy="160.5" r="1.4"/>
<circle cx="227.5" cy="159.6" r="1.4"/>
<circle cx="220.4" cy="163.6" r="1.4"/>
<circle cx="333.4" cy="164.7" r="1.4"/>
<circle cx="335.0" cy="164.7" r="1.4"/>
<circle cx="378.1" cy="151.1" r="1.4"/>
<circle cx="376.7" cy="157.2" r="1.4"/>
<circle cx="376.7" cy="160.0" r="1.4"/>
<circle cx="376.7" cy="162.5" r="1.4"/>
<circle cx="376.7" cy="166.3" r="1.4"/>
<circle cx="387.8" cy="156.9" r="1.4"/>
<circle cx="386.9" cy="160.5" r="1.4"/>
<circle cx="386.9" cy="163.0" r="1.4"/>
</g></g>
<text x="9.9" y="230.6" font-size="8.6" fill="#1a1a1a">b)</text>
<rect x="40.6" y="225.9" width="358.9" height="5.1" fill="#fff" stroke="#666" stroke-width="0.8"/>
<rect x="295.5" y="225.4" width="19.4" height="5.7" rx="1.4" fill="#fff" stroke="#f42a2a" stroke-width="1.1"/>
<g stroke="#555" stroke-width="0.9"><line x1="43" y1="250.8" x2="207.5" y2="250.8"/><line x1="233" y1="250.8" x2="398" y2="250.8"/></g>
<path d="M41.5,250.8 L45,249.3 L45,252.3 Z" fill="#222"/>
<path d="M400,250.8 L396.5,249.3 L396.5,252.3 Z" fill="#222"/>
<text x="220.3" y="253.3" font-size="6.05" fill="#222" text-anchor="middle">4,184 kb</text>
<line x1="50.2" y1="263" x2="50.2" y2="266.4" stroke="#333" stroke-width="0.6"/>
<line x1="93.0" y1="263" x2="93.0" y2="266.4" stroke="#333" stroke-width="0.6"/>
<line x1="135.8" y1="263" x2="135.8" y2="266.4" stroke="#333" stroke-width="0.6"/>
<line x1="178.5" y1="263" x2="178.5" y2="266.4" stroke="#333" stroke-width="0.6"/>
<line x1="221.3" y1="263" x2="221.3" y2="266.4" stroke="#333" stroke-width="0.6"/>
<line x1="264.1" y1="263" x2="264.1" y2="266.4" stroke="#333" stroke-width="0.6"/>
<line x1="306.8" y1="263" x2="306.8" y2="266.4" stroke="#333" stroke-width="0.6"/>
<line x1="349.6" y1="263" x2="349.6" y2="266.4" stroke="#333" stroke-width="0.6"/>
<line x1="392.4" y1="263" x2="392.4" y2="266.4" stroke="#333" stroke-width="0.6"/>
<text x="50.2" y="260.5" font-size="4.8" fill="#333" text-anchor="middle">63,000 kb</text>
<text x="135.8" y="260.5" font-size="4.8" fill="#333" text-anchor="middle">64,000 kb</text>
<text x="221.3" y="260.5" font-size="4.8" fill="#333" text-anchor="middle">65,000 kb</text>
<text x="306.8" y="260.5" font-size="4.8" fill="#333" text-anchor="middle">66,000 kb</text>
<text x="392.4" y="260.5" font-size="4.8" fill="#333" text-anchor="middle">67,000 kb</text>
<rect x="40.6" y="266.4" width="359" height="7.9" fill="#fff" stroke="#333" stroke-width="0.8"/>
<rect x="92.2" y="266.8" width="4.4" height="7.099999999999966" fill="#c5dcdf"/>
<rect x="109.4" y="266.8" width="6.4" height="7.099999999999966" fill="#cfe3ec"/>
<line x1="44.2" y1="266.8" x2="44.2" y2="273.9" stroke="#a5d6da" stroke-width="0.6"/>
<line x1="396.7" y1="266.8" x2="396.7" y2="273.9" stroke="#8a9598" stroke-width="0.5"/>
<line x1="82.5" y1="266.8" x2="82.5" y2="273.9" stroke="#9aa7aa" stroke-width="0.5"/>
<line x1="84.9" y1="266.8" x2="84.9" y2="273.9" stroke="#9fd3da" stroke-width="0.6"/>
<line x1="92.4" y1="266.8" x2="92.4" y2="273.9" stroke="#8fa9ad" stroke-width="0.5"/>
<line x1="96.4" y1="266.8" x2="96.4" y2="273.9" stroke="#a9c4c8" stroke-width="0.4"/>
<line x1="109.7" y1="266.8" x2="109.7" y2="273.9" stroke="#1d86d6" stroke-width="1.0"/>
<line x1="111.4" y1="266.8" x2="111.4" y2="273.9" stroke="#7fb6dc" stroke-width="0.5"/>
<line x1="114.6" y1="266.8" x2="114.6" y2="273.9" stroke="#8ab0c0" stroke-width="0.5"/>
<line x1="115.6" y1="266.8" x2="115.6" y2="273.9" stroke="#9fb5be" stroke-width="0.4"/>
<line x1="189.8" y1="266.8" x2="189.8" y2="273.9" stroke="#a0aab0" stroke-width="0.5"/>
<line x1="191.9" y1="266.8" x2="191.9" y2="273.9" stroke="#8fa0a8" stroke-width="0.5"/>
<line x1="193.0" y1="266.8" x2="193.0" y2="273.9" stroke="#b0bcc2" stroke-width="0.4"/>
<line x1="195.8" y1="266.8" x2="195.8" y2="273.9" stroke="#2a8ad6" stroke-width="0.7"/>
<line x1="200.0" y1="266.8" x2="200.0" y2="273.9" stroke="#a0aab0" stroke-width="0.5"/>
<rect x="181.6" y="267.6" width="2.7" height="5.5" fill="#1a7fd4"/>
<rect x="248.5" y="267.6" width="3.0" height="5.4" fill="#1a7fd4"/>
<line x1="182.95" y1="267.6" x2="182.95" y2="273.1" stroke="#7fb4e4" stroke-width="0.35"/>
<line x1="250" y1="268.6" x2="250" y2="272.2" stroke="#8cc0ea" stroke-width="0.5"/>
<text x="102.2" y="283.6" font-size="6.7" font-weight="bold" fill="#1f8ad8" textLength="15.5" lengthAdjust="spacingAndGlyphs">MC1R</text>
<text x="173.2" y="283.6" font-size="6.7" font-weight="bold" fill="#1f8ad8" textLength="19.8" lengthAdjust="spacingAndGlyphs">GALNS</text>
<text x="239.3" y="283.6" font-size="6.7" font-weight="bold" fill="#1f8ad8" textLength="20.9" lengthAdjust="spacingAndGlyphs">SLC7A5</text>
<line x1="295.6" y1="231.1" x2="41" y2="269.5" stroke="#f58a8a" stroke-width="0.6"/>
<line x1="314.8" y1="231.1" x2="399.4" y2="269.5" stroke="#f58a8a" stroke-width="0.6"/>
<g stroke="#666" stroke-width="0.5">
<line x1="44.2" y1="274.3" x2="50.6" y2="295.0"/>
<line x1="83.1" y1="274.3" x2="69.2" y2="298.7"/>
<line x1="85.3" y1="274.3" x2="87.7" y2="302.4"/>
<line x1="92.7" y1="274.3" x2="106.3" y2="302.4"/>
<line x1="93.9" y1="274.3" x2="124.9" y2="298.7"/>
<line x1="94.9" y1="274.3" x2="143.4" y2="302.4"/>
<line x1="96.0" y1="274.3" x2="162.0" y2="306.1"/>
<line x1="109.8" y1="274.3" x2="180.6" y2="302.4"/>
<line x1="111.5" y1="274.3" x2="199.2" y2="302.4"/>
<line x1="114.2" y1="274.3" x2="217.7" y2="302.4"/>
<line x1="115.6" y1="274.3" x2="236.3" y2="302.4"/>
<line x1="186.0" y1="274.3" x2="254.9" y2="295.0"/>
<line x1="189.8" y1="274.3" x2="273.4" y2="302.4"/>
<line x1="191.9" y1="274.3" x2="292.0" y2="302.4"/>
<line x1="193.0" y1="274.3" x2="310.6" y2="295.0"/>
<line x1="195.8" y1="274.3" x2="329.2" y2="302.4"/>
<line x1="198.0" y1="274.3" x2="347.7" y2="295.0"/>
<line x1="200.0" y1="274.3" x2="366.3" y2="302.4"/>
<line x1="396.7" y1="274.3" x2="384.9" y2="302.4"/>
</g>
<text transform="translate(54.10,352.5) rotate(-90)" font-size="6.65" fill="#222">BICF2S23434355</text>
<text transform="translate(72.67,352.5) rotate(-90)" font-size="6.65" fill="#222">BICF2P1008770</text>
<text transform="translate(91.24,352.5) rotate(-90)" font-size="6.65" fill="#222">BICF2P808731</text>
<text transform="translate(109.81,352.5) rotate(-90)" font-size="6.65" fill="#222">BICF2P857625</text>
<text transform="translate(128.38,352.5) rotate(-90)" font-size="6.65" fill="#222">BICF2P1040066</text>
<text transform="translate(146.95,352.5) rotate(-90)" font-size="6.65" fill="#222">BICF2P645336</text>
<text transform="translate(165.52,352.5) rotate(-90)" font-size="6.65" fill="#222">BICF2P70559</text>
<text transform="translate(184.09,352.5) rotate(-90)" font-size="6.65" fill="#222">BICF2P854028</text>
<text transform="translate(202.66,352.5) rotate(-90)" font-size="6.65" fill="#222">BICF2P601502</text>
<text transform="translate(221.23,352.5) rotate(-90)" font-size="6.65" fill="#222">BICF2P575049</text>
<text transform="translate(239.80,352.5) rotate(-90)" font-size="6.65" fill="#222">BICF2P831934</text>
<text transform="translate(258.37,352.5) rotate(-90)" font-size="6.65" fill="#222">BICF2S23547384</text>
<text transform="translate(276.94,352.5) rotate(-90)" font-size="6.65" fill="#222">BICF2P381779</text>
<text transform="translate(295.51,352.5) rotate(-90)" font-size="6.65" fill="#222">BICF2P391963</text>
<text transform="translate(314.08,352.5) rotate(-90)" font-size="6.65" fill="#222">BICF2S23123672</text>
<text transform="translate(332.65,352.5) rotate(-90)" font-size="6.65" fill="#222">BICF2P402395</text>
<text transform="translate(351.22,352.5) rotate(-90)" font-size="6.65" fill="#222">BICF2S22935158</text>
<text transform="translate(369.79,352.5) rotate(-90)" font-size="6.65" fill="#222">BICF2P483155</text>
<text transform="translate(388.36,352.5) rotate(-90)" font-size="6.65" fill="#222">BICF2P205133</text>
<text x="10.9" y="367.3" font-size="8.1" fill="#1a1a1a">c)</text>
<text x="39.5" y="364" font-size="4.9" fill="#222">Allele 1</text>
<text x="39.5" y="374.8" font-size="4.9" fill="#222">Allele 2</text>
<rect x="60.28" y="356.9" width="18.57" height="11.2" fill="#1470c8" stroke="#222" stroke-width="0.5"/>
<rect x="60.28" y="368.1" width="18.57" height="11.2" fill="#f20d0d" stroke="#222" stroke-width="0.5"/>
<text x="69.57" y="364.7" font-size="5.9" fill="#111" text-anchor="middle">G</text>
<text x="69.57" y="375.9" font-size="5.9" fill="#111" text-anchor="middle">A</text>
<line x1="69.57" y1="379.3" x2="69.57" y2="390.6" stroke="#999" stroke-width="0.5"/>
<line x1="69.57" y1="419.4" x2="69.57" y2="431.7" stroke="#999" stroke-width="0.5"/>
<rect x="78.85" y="356.9" width="18.57" height="11.2" fill="#1470c8" stroke="#222" stroke-width="0.5"/>
<rect x="78.85" y="368.1" width="18.57" height="11.2" fill="#f20d0d" stroke="#222" stroke-width="0.5"/>
<text x="88.14" y="364.7" font-size="5.9" fill="#111" text-anchor="middle">A</text>
<text x="88.14" y="375.9" font-size="5.9" fill="#111" text-anchor="middle">C</text>
<line x1="88.14" y1="379.3" x2="88.14" y2="390.6" stroke="#999" stroke-width="0.5"/>
<line x1="88.14" y1="419.4" x2="88.14" y2="431.7" stroke="#999" stroke-width="0.5"/>
<rect x="97.42" y="356.9" width="18.57" height="11.2" fill="#1470c8" stroke="#222" stroke-width="0.5"/>
<rect x="97.42" y="368.1" width="18.57" height="11.2" fill="#f20d0d" stroke="#222" stroke-width="0.5"/>
<text x="106.71" y="364.7" font-size="5.9" fill="#111" text-anchor="middle">G</text>
<text x="106.71" y="375.9" font-size="5.9" fill="#111" text-anchor="middle">A</text>
<line x1="106.71" y1="379.3" x2="106.71" y2="390.6" stroke="#999" stroke-width="0.5"/>
<line x1="106.71" y1="419.4" x2="106.71" y2="431.7" stroke="#999" stroke-width="0.5"/>
<rect x="116.00" y="356.9" width="18.57" height="11.2" fill="#1470c8" stroke="#222" stroke-width="0.5"/>
<rect x="116.00" y="368.1" width="18.57" height="11.2" fill="#f20d0d" stroke="#222" stroke-width="0.5"/>
<text x="125.28" y="364.7" font-size="5.9" fill="#111" text-anchor="middle">A</text>
<text x="125.28" y="375.9" font-size="5.9" fill="#111" text-anchor="middle">G</text>
<line x1="125.28" y1="379.3" x2="125.28" y2="390.6" stroke="#999" stroke-width="0.5"/>
<line x1="125.28" y1="419.4" x2="125.28" y2="431.7" stroke="#999" stroke-width="0.5"/>
<rect x="134.56" y="356.9" width="18.57" height="11.2" fill="#1470c8" stroke="#222" stroke-width="0.5"/>
<rect x="134.56" y="368.1" width="18.57" height="11.2" fill="#f20d0d" stroke="#222" stroke-width="0.5"/>
<text x="143.85" y="364.7" font-size="5.9" fill="#111" text-anchor="middle">A</text>
<text x="143.85" y="375.9" font-size="5.9" fill="#111" text-anchor="middle">G</text>
<line x1="143.85" y1="379.3" x2="143.85" y2="390.6" stroke="#999" stroke-width="0.5"/>
<line x1="143.85" y1="419.4" x2="143.85" y2="431.7" stroke="#999" stroke-width="0.5"/>
<rect x="153.13" y="356.9" width="18.57" height="11.2" fill="#1470c8" stroke="#222" stroke-width="0.5"/>
<rect x="153.13" y="368.1" width="18.57" height="11.2" fill="#f20d0d" stroke="#222" stroke-width="0.5"/>
<text x="162.42" y="364.7" font-size="5.9" fill="#111" text-anchor="middle">G</text>
<text x="162.42" y="375.9" font-size="5.9" fill="#111" text-anchor="middle">A</text>
<line x1="162.42" y1="379.3" x2="162.42" y2="390.6" stroke="#999" stroke-width="0.5"/>
<line x1="162.42" y1="419.4" x2="162.42" y2="431.7" stroke="#999" stroke-width="0.5"/>
<rect x="171.70" y="356.9" width="18.57" height="11.2" fill="#1470c8" stroke="#222" stroke-width="0.5"/>
<rect x="171.70" y="368.1" width="18.57" height="11.2" fill="#f20d0d" stroke="#222" stroke-width="0.5"/>
<text x="180.99" y="364.7" font-size="5.9" fill="#111" text-anchor="middle">G</text>
<text x="180.99" y="375.9" font-size="5.9" fill="#111" text-anchor="middle">C</text>
<line x1="180.99" y1="379.3" x2="180.99" y2="390.6" stroke="#999" stroke-width="0.5"/>
<line x1="180.99" y1="419.4" x2="180.99" y2="431.7" stroke="#999" stroke-width="0.5"/>
<rect x="190.28" y="356.9" width="18.57" height="11.2" fill="#1470c8" stroke="#222" stroke-width="0.5"/>
<rect x="190.28" y="368.1" width="18.57" height="11.2" fill="#f20d0d" stroke="#222" stroke-width="0.5"/>
<text x="199.56" y="364.7" font-size="5.9" fill="#111" text-anchor="middle">A</text>
<text x="199.56" y="375.9" font-size="5.9" fill="#111" text-anchor="middle">G</text>
<line x1="199.56" y1="379.3" x2="199.56" y2="390.6" stroke="#999" stroke-width="0.5"/>
<line x1="199.56" y1="419.4" x2="199.56" y2="431.7" stroke="#999" stroke-width="0.5"/>
<rect x="208.84" y="356.9" width="18.57" height="11.2" fill="#1470c8" stroke="#222" stroke-width="0.5"/>
<rect x="208.84" y="368.1" width="18.57" height="11.2" fill="#f20d0d" stroke="#222" stroke-width="0.5"/>
<text x="218.13" y="364.7" font-size="5.9" fill="#111" text-anchor="middle">A</text>
<text x="218.13" y="375.9" font-size="5.9" fill="#111" text-anchor="middle">G</text>
<line x1="218.13" y1="379.3" x2="218.13" y2="390.6" stroke="#999" stroke-width="0.5"/>
<line x1="218.13" y1="419.4" x2="218.13" y2="431.7" stroke="#999" stroke-width="0.5"/>
<rect x="60.28" y="390.6" width="167.13" height="28.80" fill="#1470c8"/>
<rect x="134.56" y="396.36" width="19.57" height="6.76" fill="#f20d0d"/>
<rect x="153.13" y="396.36" width="19.57" height="6.76" fill="#f20d0d"/>
<rect x="171.70" y="396.36" width="19.57" height="6.76" fill="#f20d0d"/>
<rect x="190.28" y="396.36" width="18.57" height="6.76" fill="#f20d0d"/>
<rect x="60.28" y="402.12" width="19.57" height="5.76" fill="#f20d0d"/>
<rect x="78.85" y="402.12" width="19.57" height="5.76" fill="#f20d0d"/>
<rect x="97.42" y="402.12" width="19.57" height="5.76" fill="#f20d0d"/>
<rect x="116.00" y="402.12" width="19.57" height="5.76" fill="#f20d0d"/>
<rect x="134.56" y="402.12" width="19.57" height="6.76" fill="#f20d0d"/>
<rect x="153.13" y="402.12" width="19.57" height="5.76" fill="#f20d0d"/>
<rect x="171.70" y="402.12" width="19.57" height="6.76" fill="#f20d0d"/>
<rect x="190.28" y="402.12" width="18.57" height="5.76" fill="#f20d0d"/>
<rect x="134.56" y="407.88" width="18.57" height="6.76" fill="#f20d0d"/>
<rect x="171.70" y="407.88" width="18.57" height="6.76" fill="#f20d0d"/>
<rect x="208.84" y="407.88" width="18.57" height="6.76" fill="#f20d0d"/>
<rect x="60.28" y="413.64" width="19.57" height="5.76" fill="#f20d0d"/>
<rect x="78.85" y="413.64" width="19.57" height="5.76" fill="#f20d0d"/>
<rect x="97.42" y="413.64" width="19.57" height="5.76" fill="#f20d0d"/>
<rect x="116.00" y="413.64" width="19.57" height="5.76" fill="#f20d0d"/>
<rect x="134.56" y="413.64" width="18.57" height="5.76" fill="#f20d0d"/>
<rect x="171.70" y="413.64" width="18.57" height="5.76" fill="#f20d0d"/>
<rect x="208.84" y="413.64" width="18.57" height="5.76" fill="#f20d0d"/>
<rect x="321.46" y="356.9" width="18.57" height="11.2" fill="#1470c8" stroke="#222" stroke-width="0.5"/>
<rect x="321.46" y="368.1" width="18.57" height="11.2" fill="#f20d0d" stroke="#222" stroke-width="0.5"/>
<text x="330.75" y="364.7" font-size="5.9" fill="#111" text-anchor="middle">G</text>
<text x="330.75" y="375.9" font-size="5.9" fill="#111" text-anchor="middle">C</text>
<line x1="330.75" y1="379.3" x2="330.75" y2="390.6" stroke="#999" stroke-width="0.5"/>
<line x1="330.75" y1="419.4" x2="330.75" y2="431.7" stroke="#999" stroke-width="0.5"/>
<rect x="340.03" y="356.9" width="18.57" height="11.2" fill="#1470c8" stroke="#222" stroke-width="0.5"/>
<rect x="340.03" y="368.1" width="18.57" height="11.2" fill="#f20d0d" stroke="#222" stroke-width="0.5"/>
<text x="349.32" y="364.7" font-size="5.9" fill="#111" text-anchor="middle">A</text>
<text x="349.32" y="375.9" font-size="5.9" fill="#111" text-anchor="middle">G</text>
<line x1="349.32" y1="379.3" x2="349.32" y2="390.6" stroke="#999" stroke-width="0.5"/>
<line x1="349.32" y1="419.4" x2="349.32" y2="431.7" stroke="#999" stroke-width="0.5"/>
<rect x="358.60" y="356.9" width="18.57" height="11.2" fill="#1470c8" stroke="#222" stroke-width="0.5"/>
<rect x="358.60" y="368.1" width="18.57" height="11.2" fill="#f20d0d" stroke="#222" stroke-width="0.5"/>
<text x="367.89" y="364.7" font-size="5.9" fill="#111" text-anchor="middle">A</text>
<text x="367.89" y="375.9" font-size="5.9" fill="#111" text-anchor="middle">G</text>
<line x1="367.89" y1="379.3" x2="367.89" y2="390.6" stroke="#999" stroke-width="0.5"/>
<line x1="367.89" y1="419.4" x2="367.89" y2="431.7" stroke="#999" stroke-width="0.5"/>
<rect x="321.46" y="390.6" width="55.71" height="28.80" fill="#1470c8"/>
<rect x="321.46" y="396.36" width="19.57" height="6.76" fill="#f20d0d"/>
<rect x="340.03" y="396.36" width="19.57" height="5.76" fill="#f20d0d"/>
<rect x="358.60" y="396.36" width="18.57" height="6.76" fill="#f20d0d"/>
<rect x="321.46" y="402.12" width="18.57" height="6.76" fill="#f20d0d"/>
<rect x="358.60" y="402.12" width="18.57" height="5.76" fill="#f20d0d"/>
<rect x="321.46" y="407.88" width="19.57" height="6.76" fill="#f20d0d"/>
<rect x="340.03" y="407.88" width="18.57" height="5.76" fill="#f20d0d"/>
<rect x="321.46" y="413.64" width="18.57" height="5.76" fill="#f20d0d"/>
<text x="230.8" y="395.60" font-size="5.1" fill="#222">0.500</text>
<text x="381.2" y="395.60" font-size="5.1" fill="#222">0.500</text>
<text x="230.8" y="401.36" font-size="5.1" fill="#222">0.125</text>
<text x="381.2" y="401.36" font-size="5.1" fill="#222">0.125</text>
<text x="230.8" y="407.12" font-size="5.1" fill="#222">0.500</text>
<text x="381.2" y="407.12" font-size="5.1" fill="#222">0.500</text>
<text x="230.8" y="412.88" font-size="5.1" fill="#222">0.500</text>
<text x="381.2" y="412.88" font-size="5.1" fill="#222">0.500</text>
<text x="230.8" y="418.64" font-size="5.1" fill="#222">0.500</text>
<text x="381.2" y="418.64" font-size="5.1" fill="#222">0.500</text>
<g stroke="#8a8a8a" fill="none">
<line x1="246.8" y1="393.40" x2="317.2" y2="393.40" stroke-width="0.6"/>
<line x1="246.8" y1="399.23" x2="317.2" y2="405.06" stroke-width="0.9"/>
<line x1="246.8" y1="399.23" x2="317.2" y2="399.23" stroke-width="0.4"/>
<line x1="246.8" y1="405.06" x2="317.2" y2="410.89" stroke-width="0.9"/>
<line x1="246.8" y1="405.06" x2="317.2" y2="399.23" stroke-width="0.6"/>
<line x1="246.8" y1="410.89" x2="317.2" y2="416.72" stroke-width="0.9"/>
<line x1="246.8" y1="410.89" x2="317.2" y2="405.06" stroke-width="0.5"/>
<line x1="246.8" y1="416.72" x2="317.2" y2="416.72" stroke-width="0.8"/>
<line x1="246.8" y1="416.72" x2="317.2" y2="410.89" stroke-width="0.5"/>
<line x1="246.8" y1="405.06" x2="317.2" y2="405.06" stroke-width="0.4"/>
</g>
<text x="279.5" y="425.8" font-size="5.1" fill="#222" text-anchor="middle">0.79</text>
<path d="M78.85,445.95 L87.49,454.47 L78.85,462.99 L70.22,454.47 Z" fill="#13868e"/>
<path d="M97.43,445.95 L106.06,454.47 L97.43,462.99 L88.79,454.47 Z" fill="#13868e"/>
<path d="M116.00,445.95 L124.63,454.47 L116.00,462.99 L107.36,454.47 Z" fill="#13868e"/>
<path d="M134.56,445.95 L143.20,454.47 L134.56,462.99 L125.93,454.47 Z" fill="#7dcfd6"/>
<path d="M153.13,445.95 L161.77,454.47 L153.13,462.99 L144.50,454.47 Z" fill="#7dcfd6"/>
<path d="M171.71,445.95 L180.34,454.47 L171.71,462.99 L163.07,454.47 Z" fill="#7dcfd6"/>
<path d="M190.28,445.95 L198.91,454.47 L190.28,462.99 L181.64,454.47 Z" fill="#7dcfd6"/>
<path d="M208.84,445.95 L217.48,454.47 L208.84,462.99 L200.21,454.47 Z" fill="#13868e"/>
<path d="M88.14,455.12 L96.77,463.64 L88.14,472.16 L79.51,463.64 Z" fill="#13868e"/>
<path d="M106.71,455.12 L115.34,463.64 L106.71,472.16 L98.08,463.64 Z" fill="#13868e"/>
<path d="M125.28,455.12 L133.91,463.64 L125.28,472.16 L116.65,463.64 Z" fill="#7dcfd6"/>
<path d="M143.85,455.12 L152.49,463.64 L143.85,472.16 L135.22,463.64 Z" fill="#13868e"/>
<path d="M162.42,455.12 L171.06,463.64 L162.42,472.16 L153.79,463.64 Z" fill="#0c5c64"/>
<path d="M180.99,455.12 L189.62,463.64 L180.99,472.16 L172.36,463.64 Z" fill="#13868e"/>
<path d="M199.56,455.12 L208.19,463.64 L199.56,472.16 L190.93,463.64 Z" fill="#7dcfd6"/>
<path d="M97.42,464.29 L106.06,472.81 L97.42,481.33 L88.79,472.81 Z" fill="#13868e"/>
<path d="M116.00,464.29 L124.63,472.81 L116.00,481.33 L107.36,472.81 Z" fill="#7dcfd6"/>
<path d="M134.56,464.29 L143.20,472.81 L134.56,481.33 L125.93,472.81 Z" fill="#13868e"/>
<path d="M153.13,464.29 L161.77,472.81 L153.13,481.33 L144.50,472.81 Z" fill="#7dcfd6"/>
<path d="M171.70,464.29 L180.34,472.81 L171.70,481.33 L163.07,472.81 Z" fill="#7dcfd6"/>
<path d="M190.28,464.29 L198.91,472.81 L190.28,481.33 L181.64,472.81 Z" fill="#13868e"/>
<path d="M106.71,473.46 L115.34,481.98 L106.71,490.50 L98.08,481.98 Z" fill="#7dcfd6"/>
<path d="M125.28,473.46 L133.91,481.98 L125.28,490.50 L116.65,481.98 Z" fill="#13868e"/>
<path d="M143.85,473.46 L152.49,481.98 L143.85,490.50 L135.22,481.98 Z" fill="#7dcfd6"/>
<path d="M162.42,473.46 L171.06,481.98 L162.42,490.50 L153.79,481.98 Z" fill="#13868e"/>
<path d="M180.99,473.46 L189.62,481.98 L180.99,490.50 L172.36,481.98 Z" fill="#7dcfd6"/>
<path d="M116.00,482.63 L124.63,491.15 L116.00,499.67 L107.36,491.15 Z" fill="#13868e"/>
<path d="M134.56,482.63 L143.20,491.15 L134.56,499.67 L125.93,491.15 Z" fill="#7dcfd6"/>
<path d="M153.13,482.63 L161.77,491.15 L153.13,499.67 L144.50,491.15 Z" fill="#13868e"/>
<path d="M171.70,482.63 L180.34,491.15 L171.70,499.67 L163.07,491.15 Z" fill="#13868e"/>
<path d="M125.28,491.80 L133.91,500.32 L125.28,508.84 L116.65,500.32 Z" fill="#7dcfd6"/>
<path d="M143.85,491.80 L152.48,500.32 L143.85,508.84 L135.22,500.32 Z" fill="#13868e"/>
<path d="M162.42,491.80 L171.06,500.32 L162.42,508.84 L153.79,500.32 Z" fill="#13868e"/>
<path d="M134.56,500.97 L143.20,509.49 L134.56,518.01 L125.93,509.49 Z" fill="#13868e"/>
<path d="M153.13,500.97 L161.77,509.49 L153.13,518.01 L144.50,509.49 Z" fill="#13868e"/>
<path d="M143.85,510.14 L152.48,518.66 L143.85,527.18 L135.22,518.66 Z" fill="#13868e"/>
<path d="M60.28,445.95 L68.92,454.47 L60.28,462.99 L51.65,454.47 Z" fill="#7dcfd6"/>
<path d="M69.57,455.12 L78.20,463.64 L69.57,472.16 L60.93,463.64 Z" fill="#7dcfd6"/>
<path d="M153.13,519.31 L161.77,527.83 L153.13,536.35 L144.50,527.83 Z" fill="#d4eef2"/>
<path d="M162.42,528.48 L171.06,537.00 L162.42,545.52 L153.79,537.00 Z" fill="#d4eef2"/>
<path d="M162.42,510.14 L171.05,518.66 L162.42,527.18 L153.78,518.66 Z" fill="#d4eef2"/>
<path d="M171.71,519.31 L180.34,527.83 L171.71,536.35 L163.07,527.83 Z" fill="#d4eef2"/>
<path d="M171.70,500.97 L180.34,509.49 L171.70,518.01 L163.07,509.49 Z" fill="#d4eef2"/>
<path d="M180.99,510.14 L189.62,518.66 L180.99,527.18 L172.36,518.66 Z" fill="#d4eef2"/>
<path d="M180.99,491.80 L189.62,500.32 L180.99,508.84 L172.36,500.32 Z" fill="#d4eef2"/>
<path d="M190.28,500.97 L198.91,509.49 L190.28,518.01 L181.64,509.49 Z" fill="#d4eef2"/>
<path d="M190.27,482.63 L198.91,491.15 L190.27,499.67 L181.64,491.15 Z" fill="#d4eef2"/>
<path d="M199.56,491.80 L208.19,500.32 L199.56,508.84 L190.93,500.32 Z" fill="#d4eef2"/>
<path d="M199.56,473.46 L208.19,481.98 L199.56,490.50 L190.93,481.98 Z" fill="#d4eef2"/>
<path d="M208.85,482.63 L217.48,491.15 L208.85,499.67 L200.21,491.15 Z" fill="#d4eef2"/>
<path d="M208.84,464.29 L217.48,472.81 L208.84,481.33 L200.21,472.81 Z" fill="#d4eef2"/>
<path d="M218.13,473.46 L226.76,481.98 L218.13,490.50 L209.50,481.98 Z" fill="#d4eef2"/>
<path d="M218.13,455.12 L226.76,463.64 L218.13,472.16 L209.50,463.64 Z" fill="#d4eef2"/>
<path d="M227.42,464.29 L236.05,472.81 L227.42,481.33 L218.78,472.81 Z" fill="#d4eef2"/>
<path d="M227.41,445.95 L236.05,454.47 L227.41,462.99 L218.78,454.47 Z" fill="#d4eef2"/>
<path d="M236.70,455.12 L245.33,463.64 L236.70,472.16 L228.06,463.64 Z" fill="#d4eef2"/>
<path d="M245.99,445.95 L254.62,454.47 L245.99,462.99 L237.35,454.47 Z" fill="#d4eef2"/>
<path d="M284.32,445.95 L292.96,454.47 L284.32,462.99 L275.69,454.47 Z" fill="#d4eef2"/>
<path d="M293.61,455.12 L302.25,463.64 L293.61,472.16 L284.97,463.64 Z" fill="#d4eef2"/>
<path d="M302.89,464.29 L311.53,472.81 L302.89,481.33 L294.26,472.81 Z" fill="#d4eef2"/>
<path d="M312.18,473.46 L320.82,481.98 L312.18,490.50 L303.54,481.98 Z" fill="#d4eef2"/>
<path d="M321.47,482.63 L330.10,491.15 L321.47,499.67 L312.83,491.15 Z" fill="#d4eef2"/>
<path d="M302.89,445.95 L311.53,454.47 L302.89,462.99 L294.26,454.47 Z" fill="#d4eef2"/>
<path d="M312.18,455.12 L320.81,463.64 L312.18,472.16 L303.54,463.64 Z" fill="#d4eef2"/>
<path d="M321.46,464.29 L330.10,472.81 L321.46,481.33 L312.83,472.81 Z" fill="#d4eef2"/>
<path d="M330.75,473.46 L339.39,481.98 L330.75,490.50 L322.11,481.98 Z" fill="#d4eef2"/>
<path d="M321.47,445.95 L330.10,454.47 L321.47,462.99 L312.83,454.47 Z" fill="#d4eef2"/>
<path d="M330.75,455.12 L339.39,463.64 L330.75,472.16 L322.11,463.64 Z" fill="#d4eef2"/>
<path d="M340.03,464.29 L348.67,472.81 L340.03,481.33 L331.40,472.81 Z" fill="#d4eef2"/>
<path d="M340.03,445.95 L348.67,454.47 L340.03,462.99 L331.40,454.47 Z" fill="#7dcfd6"/>
<path d="M349.32,455.12 L357.96,463.64 L349.32,472.16 L340.68,463.64 Z" fill="#7dcfd6"/>
<path d="M358.61,445.95 L367.24,454.47 L358.61,462.99 L349.97,454.47 Z" fill="#13868e"/>
<path d="M60.28,445.30 L60.28,432.90 Q60.28,431.70 61.48,431.70 L226.22,431.70 Q227.41,431.70 227.41,432.90 L227.41,445.30 L143.85,527.83 Z" fill="none" stroke="#111" stroke-width="1.1"/>
<text x="65.08" y="438.6" font-size="4.55" fill="#222">Block 1</text>
<path d="M321.47,445.30 L321.47,432.90 Q321.47,431.70 322.67,431.70 L375.97,431.70 Q377.17,431.70 377.17,432.90 L377.17,445.30 L349.32,472.81 Z" fill="none" stroke="#111" stroke-width="1.1"/>
<text x="326.27" y="438.6" font-size="4.55" fill="#222">Block 2</text>
<rect x="370.1" y="508.3" width="7.4" height="4.50" fill="#0d5962"/>
<rect x="370.1" y="512.5" width="7.4" height="4.60" fill="#0f838b"/>
<rect x="370.1" y="516.8" width="7.4" height="5.20" fill="#12a6ae"/>
<rect x="370.1" y="521.7" width="7.4" height="5.20" fill="#6fcbd2"/>
<rect x="370.1" y="526.6" width="7.4" height="4.50" fill="#a3dde2"/>
<rect x="370.1" y="530.8" width="7.4" height="5.20" fill="#d2eef0"/>
<path d="M382,508.5 L377.7,508.5 L377.7,535.5 L382,535.5" fill="none" stroke="#222" stroke-width="0.7"/>
<text x="384.2" y="510.8" font-size="5" fill="#222">1</text>
<text x="384.2" y="537.2" font-size="5" fill="#222">0</text>
<text x="355.1" y="524.3" font-size="4.75" fill="#222">LOD</text>
</svg></body></html>
